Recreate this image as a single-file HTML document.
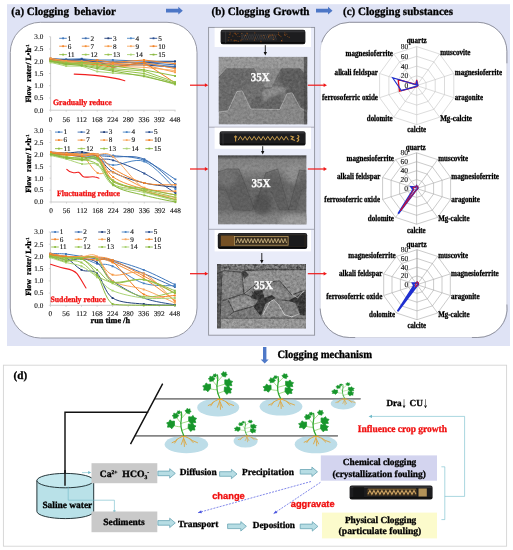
<!DOCTYPE html>
<html lang="en"><head><meta charset="utf-8"><title>Clogging behavior, growth, substances and mechanism</title>
<style>
html,body{margin:0;padding:0;background:#fff;}
body{width:513px;height:550px;overflow:hidden;position:relative;}
svg{display:block;position:absolute;left:0;top:0;}
.ts{font-family:"Liberation Serif","Times New Roman",serif;}
.ta{font-family:"Liberation Sans",Arial,sans-serif;}
.b{font-weight:bold;}
text{text-rendering:geometricPrecision;}
</style></head><body>
<svg width="513" height="550" viewBox="0 0 513 550">
<defs>
<filter id="nz" x="0" y="0" width="100%" height="100%"><feTurbulence type="fractalNoise" baseFrequency="0.4" numOctaves="3" seed="4" result="t"/><feColorMatrix in="t" type="matrix" values="0 0 0 0 0  0 0 0 0 0  0 0 0 0 0  0.9 0.9 0.9 0 -1.05"/></filter>
<filter id="nzw" x="0" y="0" width="100%" height="100%"><feTurbulence type="fractalNoise" baseFrequency="0.35" numOctaves="3" seed="9" result="t"/><feColorMatrix in="t" type="matrix" values="0 0 0 0 1  0 0 0 0 1  0 0 0 0 1  0.9 0.9 0.9 0 -1.1"/></filter>
<filter id="bl1"><feGaussianBlur stdDeviation="0.8"/></filter>
<filter id="bl2"><feGaussianBlur stdDeviation="2"/></filter>
<filter id="bl05"><feGaussianBlur stdDeviation="0.4"/></filter>
<path id="leaf" d="M0,3.6 L-4.2,2.1 L-3.1,-0.2 L-4.0,-2.5 L-1.5,-2.7 L0.0,-4.7 L1.5,-2.7 L4.0,-2.5 L3.1,-0.2 L4.2,2.1 Z" stroke-linejoin="round"/>
<g id="plant">
<g fill="none" stroke="#dfa438" stroke-width="0.9" stroke-linecap="round">
<path d="M0,0.6 C-3,2 -6,3 -8.5,6 L-11.6,7.6"/><path d="M-6.5,4 L-9,8"/>
<path d="M0,0.6 C3,2 6,3 9,5.5 L13.8,7.6"/><path d="M6,3.6 L9.5,7.5"/>
<path d="M0,0.6 C-0.5,4 0.8,7 0.7,11.6"/><path d="M-0.2,3 L-2.4,9.4"/><path d="M0.4,4 L2.6,9.5"/><path d="M-2,1 L2,1" stroke-width="1.5"/>
</g>
<g fill="none" stroke-linecap="round">
<g stroke="#86cf66" stroke-width="0.8">
<path d="M-2.9,-9 C-6,-9 -9,-9.6 -12,-11"/>
<path d="M-2.2,-5 C1,-6.4 4,-7.4 7,-8.4"/>
<path d="M-3,-12.4 C0.4,-13.4 4,-14.4 7.6,-15.8"/>
<path d="M-2.9,-13 C-4.8,-15.4 -6.4,-17.6 -7.8,-20"/>
<path d="M-2,-18 C0,-20.4 2.2,-22.8 4,-25"/>
<path d="M-2.4,-20 C-3.2,-21.6 -4,-23 -4.8,-24"/>
</g>
<path d="M0,0 C-2.8,-6 -3.4,-12 -2.4,-17 C-1.8,-20 -1.8,-22.4 -2.4,-24.6" stroke="#2fa830" stroke-width="1.25"/>
</g>
<g fill="#17962b" stroke="#17962b" stroke-width="0.7">
<use href="#leaf" transform="translate(-12.6,-11.6) rotate(-72) scale(1.0)"/>
<use href="#leaf" transform="translate(7.8,-8.6) rotate(74) scale(0.98)"/>
<use href="#leaf" transform="translate(8.4,-16.2) rotate(70) scale(1.0)"/>
<use href="#leaf" transform="translate(-8.2,-20.4) rotate(-30) scale(0.72)"/>
<use href="#leaf" transform="translate(4.4,-25.2) rotate(38) scale(0.68)"/>
<use href="#leaf" transform="translate(-4.9,-24) rotate(-40) scale(0.45)"/>
</g>
</g>
</defs>
<rect x="7" y="4.2" width="503" height="341.8" fill="#dfe3f5"/>
<rect x="10.3" y="22.3" width="186.7" height="315.7" rx="30" ry="30" fill="#fff" stroke="#8b8d9a" stroke-width="0.9"/>
<rect x="320.2" y="22.3" width="186.7" height="315.2" rx="29" ry="29" fill="#fff" stroke="#cfd2e0" stroke-width="0.8"/>
<path d="M321.7,42.3 A29,29 0 0 1 349.2,22.3 H477.9 A29,29 0 0 1 506.9,51.3 V63.3 M506.9,304.5 A29,29 0 0 1 477.9,337.5 h-6 M355.2,337.5 h-6 A29,29 0 0 1 320.2,308.5" fill="none" stroke="#8b8d9a" stroke-width="0.9"/>
<text class="ts b" x="11.3" y="14.6" font-size="11.2" stroke="#000" stroke-width="0.3" textLength="104.5" lengthAdjust="spacingAndGlyphs" xml:space="preserve">(a) Clogging  behavior</text>
<text class="ts b" x="211.5" y="14.6" font-size="11.2" stroke="#000" stroke-width="0.3" textLength="98.0" lengthAdjust="spacingAndGlyphs">(b) Clogging Growth</text>
<text class="ts b" x="343.0" y="14.6" font-size="11.2" stroke="#000" stroke-width="0.3" textLength="110.0" lengthAdjust="spacingAndGlyphs">(c) Clogging substances</text>
<path d="M166.0,8.799999999999999 H178.3 V6.799999999999999 L182.8,10.7 L178.3,14.6 V12.6 H166.0 Z" fill="#4c76c6"/>
<path d="M316.0,8.799999999999999 H328.0 V6.799999999999999 L332.5,10.7 L328.0,14.6 V12.6 H316.0 Z" fill="#4c76c6"/>
<path d="M263.0,347 H266.4 V359.4 H268.7 L264.7,363.6 L260.7,359.4 H263.0 Z" fill="#4f79c8"/>
<text class="ts b" x="277.4" y="358.4" font-size="11.2" stroke="#000" stroke-width="0.3" textLength="94.6" lengthAdjust="spacingAndGlyphs">Clogging mechanism</text>
<path d="M50.6,36.7 V110.2 H175.5" stroke="#bfbfbf" stroke-width="0.8" fill="none"/>
<path d="M49.0,110.2 H50.6 M49.0,98.0 H50.6 M49.0,85.7 H50.6 M49.0,73.5 H50.6 M49.0,61.2 H50.6 M49.0,49.0 H50.6 M49.0,36.7 H50.6 M50.6,110.2 V111.8 M66.2,110.2 V111.8 M81.7,110.2 V111.8 M97.2,110.2 V111.8 M112.8,110.2 V111.8 M128.3,110.2 V111.8 M143.9,110.2 V111.8 M159.5,110.2 V111.8 M175.0,110.2 V111.8 " stroke="#bfbfbf" stroke-width="0.6" fill="none"/>
<text class="ts" x="43.3" y="112.5" font-size="7.2" text-anchor="end" fill="#111" stroke="#111" stroke-width="0.12">0.0</text>
<text class="ts" x="43.3" y="100.2" font-size="7.2" text-anchor="end" fill="#111" stroke="#111" stroke-width="0.12">0.5</text>
<text class="ts" x="43.3" y="88.0" font-size="7.2" text-anchor="end" fill="#111" stroke="#111" stroke-width="0.12">1.0</text>
<text class="ts" x="43.3" y="75.8" font-size="7.2" text-anchor="end" fill="#111" stroke="#111" stroke-width="0.12">1.5</text>
<text class="ts" x="43.3" y="63.5" font-size="7.2" text-anchor="end" fill="#111" stroke="#111" stroke-width="0.12">2.0</text>
<text class="ts" x="43.3" y="51.2" font-size="7.2" text-anchor="end" fill="#111" stroke="#111" stroke-width="0.12">2.5</text>
<text class="ts" x="43.3" y="39.0" font-size="7.2" text-anchor="end" fill="#111" stroke="#111" stroke-width="0.12">3.0</text>
<text class="ts" x="50.6" y="121.5" font-size="7.3" text-anchor="middle" fill="#111" stroke="#111" stroke-width="0.12">0</text>
<text class="ts" x="66.2" y="121.5" font-size="7.3" text-anchor="middle" fill="#111" stroke="#111" stroke-width="0.12">56</text>
<text class="ts" x="81.7" y="121.5" font-size="7.3" text-anchor="middle" fill="#111" stroke="#111" stroke-width="0.12">112</text>
<text class="ts" x="97.2" y="121.5" font-size="7.3" text-anchor="middle" fill="#111" stroke="#111" stroke-width="0.12">168</text>
<text class="ts" x="112.8" y="121.5" font-size="7.3" text-anchor="middle" fill="#111" stroke="#111" stroke-width="0.12">224</text>
<text class="ts" x="128.3" y="121.5" font-size="7.3" text-anchor="middle" fill="#111" stroke="#111" stroke-width="0.12">280</text>
<text class="ts" x="143.9" y="121.5" font-size="7.3" text-anchor="middle" fill="#111" stroke="#111" stroke-width="0.12">336</text>
<text class="ts" x="159.5" y="121.5" font-size="7.3" text-anchor="middle" fill="#111" stroke="#111" stroke-width="0.12">392</text>
<text class="ts" x="175.0" y="121.5" font-size="7.3" text-anchor="middle" fill="#111" stroke="#111" stroke-width="0.12">448</text>
<text class="ts b" font-size="7.9" stroke="#000" stroke-width="0.3" text-anchor="middle" transform="translate(31.2,73.4) rotate(-90)" xml:space="preserve">Flow  rater/ L•h<tspan font-size="4.6" dy="-2.6">-1</tspan></text>
<path d="M50.6,58.8 L66.2,59.2 L81.7,58.8 L97.2,60.0 L112.8,60.0 L143.9,61.2 L175.0,61.2" stroke="#3f78bd" stroke-width="1" fill="none" stroke-linejoin="round"/>
<path d="M49.6,57.8h1.9v1.9h-1.9zM65.2,58.3h1.9v1.9h-1.9zM80.8,57.8h1.9v1.9h-1.9zM96.3,59.0h1.9v1.9h-1.9zM111.9,59.0h1.9v1.9h-1.9zM143.0,60.2h1.9v1.9h-1.9zM174.1,60.2h1.9v1.9h-1.9z" fill="#3f78bd"/>
<path d="M50.6,60.0 L66.2,60.0 L81.7,61.2 L97.2,61.2 L112.8,62.4 L143.9,62.4 L175.0,64.9" stroke="#3a6cb0" stroke-width="1" fill="none" stroke-linejoin="round"/>
<path d="M49.6,59.0h1.9v1.9h-1.9zM65.2,59.0h1.9v1.9h-1.9zM80.8,60.2h1.9v1.9h-1.9zM96.3,60.2h1.9v1.9h-1.9zM111.9,61.5h1.9v1.9h-1.9zM143.0,61.5h1.9v1.9h-1.9zM174.1,63.9h1.9v1.9h-1.9z" fill="#3a6cb0"/>
<path d="M50.6,58.8 L66.2,60.0 L81.7,60.0 L97.2,61.2 L112.8,67.3 L143.9,62.4 L175.0,61.7" stroke="#23407a" stroke-width="1" fill="none" stroke-linejoin="round"/>
<path d="M49.6,57.8h1.9v1.9h-1.9zM65.2,59.0h1.9v1.9h-1.9zM80.8,59.0h1.9v1.9h-1.9zM96.3,60.2h1.9v1.9h-1.9zM111.9,66.4h1.9v1.9h-1.9zM143.0,61.5h1.9v1.9h-1.9zM174.1,60.7h1.9v1.9h-1.9z" fill="#23407a"/>
<path d="M50.6,59.2 L66.2,60.7 L81.7,60.7 L97.2,61.7 L112.8,61.2 L143.9,63.7 L175.0,66.6" stroke="#4a84c4" stroke-width="1" fill="none" stroke-linejoin="round"/>
<path d="M49.6,58.3h1.9v1.9h-1.9zM65.2,59.8h1.9v1.9h-1.9zM80.8,59.8h1.9v1.9h-1.9zM96.3,60.7h1.9v1.9h-1.9zM111.9,60.2h1.9v1.9h-1.9zM143.0,62.7h1.9v1.9h-1.9zM174.1,65.6h1.9v1.9h-1.9z" fill="#4a84c4"/>
<path d="M50.6,60.0 L66.2,61.2 L81.7,59.2 L97.2,62.4 L112.8,64.9 L143.9,64.9 L175.0,67.3" stroke="#2a4f92" stroke-width="1" fill="none" stroke-linejoin="round"/>
<path d="M49.6,59.0h1.9v1.9h-1.9zM65.2,60.2h1.9v1.9h-1.9zM80.8,58.3h1.9v1.9h-1.9zM96.3,61.5h1.9v1.9h-1.9zM111.9,63.9h1.9v1.9h-1.9zM143.0,63.9h1.9v1.9h-1.9zM174.1,66.4h1.9v1.9h-1.9z" fill="#2a4f92"/>
<path d="M50.6,58.8 L66.2,60.7 L81.7,61.7 L97.2,60.0 L112.8,62.4 L143.9,60.0 L175.0,63.7" stroke="#f4862c" stroke-width="1" fill="none" stroke-linejoin="round"/>
<path d="M49.6,57.8h1.9v1.9h-1.9zM65.2,59.8h1.9v1.9h-1.9zM80.8,60.7h1.9v1.9h-1.9zM96.3,59.0h1.9v1.9h-1.9zM111.9,61.5h1.9v1.9h-1.9zM143.0,59.0h1.9v1.9h-1.9zM174.1,62.7h1.9v1.9h-1.9z" fill="#f4862c"/>
<path d="M50.6,60.0 L66.2,61.7 L81.7,62.4 L97.2,62.4 L112.8,63.7 L143.9,62.4 L175.0,68.6" stroke="#f58f38" stroke-width="1" fill="none" stroke-linejoin="round"/>
<path d="M49.6,59.0h1.9v1.9h-1.9zM65.2,60.7h1.9v1.9h-1.9zM80.8,61.5h1.9v1.9h-1.9zM96.3,61.5h1.9v1.9h-1.9zM111.9,62.7h1.9v1.9h-1.9zM143.0,61.5h1.9v1.9h-1.9zM174.1,67.6h1.9v1.9h-1.9z" fill="#f58f38"/>
<path d="M50.6,58.3 L66.2,61.2 L81.7,61.2 L97.2,63.7 L112.8,64.9 L143.9,64.9 L175.0,72.2" stroke="#f79a46" stroke-width="1" fill="none" stroke-linejoin="round"/>
<path d="M49.6,57.3h1.9v1.9h-1.9zM65.2,60.2h1.9v1.9h-1.9zM80.8,60.2h1.9v1.9h-1.9zM96.3,62.7h1.9v1.9h-1.9zM111.9,63.9h1.9v1.9h-1.9zM143.0,63.9h1.9v1.9h-1.9zM174.1,71.3h1.9v1.9h-1.9z" fill="#f79a46"/>
<path d="M50.6,61.2 L66.2,62.4 L81.7,63.2 L97.2,64.1 L112.8,66.1 L143.9,67.3 L175.0,70.5" stroke="#f9a860" stroke-width="1" fill="none" stroke-linejoin="round"/>
<path d="M49.6,60.2h1.9v1.9h-1.9zM65.2,61.5h1.9v1.9h-1.9zM80.8,62.2h1.9v1.9h-1.9zM96.3,63.2h1.9v1.9h-1.9zM111.9,65.1h1.9v1.9h-1.9zM143.0,66.4h1.9v1.9h-1.9zM174.1,69.6h1.9v1.9h-1.9z" fill="#f9a860"/>
<path d="M50.6,60.0 L66.2,63.2 L81.7,63.7 L97.2,64.9 L112.8,67.3 L143.9,62.4 L175.0,82.8" stroke="#f07f22" stroke-width="1" fill="none" stroke-linejoin="round"/>
<path d="M49.6,59.0h1.9v1.9h-1.9zM65.2,62.2h1.9v1.9h-1.9zM80.8,62.7h1.9v1.9h-1.9zM96.3,63.9h1.9v1.9h-1.9zM111.9,66.4h1.9v1.9h-1.9zM143.0,61.5h1.9v1.9h-1.9zM174.1,81.8h1.9v1.9h-1.9z" fill="#f07f22"/>
<path d="M50.6,61.2 L66.2,63.7 L81.7,62.4 L97.2,63.7 L112.8,66.1 L143.9,69.8 L175.0,75.9" stroke="#8fbd44" stroke-width="1" fill="none" stroke-linejoin="round"/>
<path d="M49.6,60.2h1.9v1.9h-1.9zM65.2,62.7h1.9v1.9h-1.9zM80.8,61.5h1.9v1.9h-1.9zM96.3,62.7h1.9v1.9h-1.9zM111.9,65.1h1.9v1.9h-1.9zM143.0,68.8h1.9v1.9h-1.9zM174.1,75.0h1.9v1.9h-1.9z" fill="#8fbd44"/>
<path d="M50.6,61.7 L66.2,64.9 L81.7,63.7 L97.2,66.1 L112.8,68.6 L143.9,71.0 L175.0,82.0" stroke="#9ac650" stroke-width="1" fill="none" stroke-linejoin="round"/>
<path d="M49.6,60.7h1.9v1.9h-1.9zM65.2,63.9h1.9v1.9h-1.9zM80.8,62.7h1.9v1.9h-1.9zM96.3,65.1h1.9v1.9h-1.9zM111.9,67.6h1.9v1.9h-1.9zM143.0,70.0h1.9v1.9h-1.9zM174.1,81.1h1.9v1.9h-1.9z" fill="#9ac650"/>
<path d="M50.6,60.7 L66.2,62.4 L81.7,64.9 L97.2,67.3 L112.8,69.8 L143.9,73.5 L175.0,83.2" stroke="#94c148" stroke-width="1" fill="none" stroke-linejoin="round"/>
<path d="M49.6,59.8h1.9v1.9h-1.9zM65.2,61.5h1.9v1.9h-1.9zM80.8,63.9h1.9v1.9h-1.9zM96.3,66.4h1.9v1.9h-1.9zM111.9,68.8h1.9v1.9h-1.9zM143.0,72.5h1.9v1.9h-1.9zM174.1,82.3h1.9v1.9h-1.9z" fill="#94c148"/>
<path d="M50.6,62.4 L66.2,66.1 L81.7,66.1 L97.2,71.5 L112.8,73.0 L143.9,75.4 L175.0,84.5" stroke="#aad374" stroke-width="1" fill="none" stroke-linejoin="round"/>
<path d="M49.6,61.5h1.9v1.9h-1.9zM65.2,65.1h1.9v1.9h-1.9zM80.8,65.1h1.9v1.9h-1.9zM96.3,70.5h1.9v1.9h-1.9zM111.9,72.0h1.9v1.9h-1.9zM143.0,74.5h1.9v1.9h-1.9zM174.1,83.5h1.9v1.9h-1.9z" fill="#aad374"/>
<path d="M50.6,61.2 L66.2,64.1 L81.7,65.6 L97.2,68.6 L112.8,71.0 L143.9,76.4 L175.0,83.7" stroke="#88b73e" stroke-width="1" fill="none" stroke-linejoin="round"/>
<path d="M49.6,60.2h1.9v1.9h-1.9zM65.2,63.2h1.9v1.9h-1.9zM80.8,64.7h1.9v1.9h-1.9zM96.3,67.6h1.9v1.9h-1.9zM111.9,70.0h1.9v1.9h-1.9zM143.0,75.4h1.9v1.9h-1.9zM174.1,82.8h1.9v1.9h-1.9z" fill="#88b73e"/>
<path d="M59.2,38.3 h7.6" stroke="#3f78bd" stroke-width="0.9"/><rect x="62.2" y="37.4" width="1.8" height="1.8" fill="#3f78bd"/>
<text class="ts" x="67.8" y="40.6" font-size="7.2" fill="#111" stroke="#111" stroke-width="0.12">1</text>
<path d="M81.8,38.3 h7.6" stroke="#3a6cb0" stroke-width="0.9"/><rect x="84.8" y="37.4" width="1.8" height="1.8" fill="#3a6cb0"/>
<text class="ts" x="90.4" y="40.6" font-size="7.2" fill="#111" stroke="#111" stroke-width="0.12">2</text>
<path d="M104.4,38.3 h7.6" stroke="#23407a" stroke-width="0.9"/><rect x="107.4" y="37.4" width="1.8" height="1.8" fill="#23407a"/>
<text class="ts" x="113.0" y="40.6" font-size="7.2" fill="#111" stroke="#111" stroke-width="0.12">3</text>
<path d="M127.0,38.3 h7.6" stroke="#4a84c4" stroke-width="0.9"/><rect x="130.0" y="37.4" width="1.8" height="1.8" fill="#4a84c4"/>
<text class="ts" x="135.6" y="40.6" font-size="7.2" fill="#111" stroke="#111" stroke-width="0.12">4</text>
<path d="M149.6,38.3 h7.6" stroke="#2a4f92" stroke-width="0.9"/><rect x="152.6" y="37.4" width="1.8" height="1.8" fill="#2a4f92"/>
<text class="ts" x="158.2" y="40.6" font-size="7.2" fill="#111" stroke="#111" stroke-width="0.12">5</text>
<path d="M59.2,46.2 h7.6" stroke="#f4862c" stroke-width="0.9"/><rect x="62.2" y="45.300000000000004" width="1.8" height="1.8" fill="#f4862c"/>
<text class="ts" x="67.8" y="48.5" font-size="7.2" fill="#111" stroke="#111" stroke-width="0.12">6</text>
<path d="M81.8,46.2 h7.6" stroke="#f58f38" stroke-width="0.9"/><rect x="84.8" y="45.300000000000004" width="1.8" height="1.8" fill="#f58f38"/>
<text class="ts" x="90.4" y="48.5" font-size="7.2" fill="#111" stroke="#111" stroke-width="0.12">7</text>
<path d="M104.4,46.2 h7.6" stroke="#f79a46" stroke-width="0.9"/><rect x="107.4" y="45.300000000000004" width="1.8" height="1.8" fill="#f79a46"/>
<text class="ts" x="113.0" y="48.5" font-size="7.2" fill="#111" stroke="#111" stroke-width="0.12">8</text>
<path d="M127.0,46.2 h7.6" stroke="#f9a860" stroke-width="0.9"/><rect x="130.0" y="45.300000000000004" width="1.8" height="1.8" fill="#f9a860"/>
<text class="ts" x="135.6" y="48.5" font-size="7.2" fill="#111" stroke="#111" stroke-width="0.12">9</text>
<path d="M149.6,46.2 h7.6" stroke="#f07f22" stroke-width="0.9"/><rect x="152.6" y="45.300000000000004" width="1.8" height="1.8" fill="#f07f22"/>
<text class="ts" x="158.2" y="48.5" font-size="7.2" fill="#111" stroke="#111" stroke-width="0.12">10</text>
<path d="M59.2,54.6 h7.6" stroke="#8fbd44" stroke-width="0.9"/><rect x="62.2" y="53.7" width="1.8" height="1.8" fill="#8fbd44"/>
<text class="ts" x="67.8" y="56.9" font-size="7.2" fill="#111" stroke="#111" stroke-width="0.12">11</text>
<path d="M81.8,54.6 h7.6" stroke="#9ac650" stroke-width="0.9"/><rect x="84.8" y="53.7" width="1.8" height="1.8" fill="#9ac650"/>
<text class="ts" x="90.4" y="56.9" font-size="7.2" fill="#111" stroke="#111" stroke-width="0.12">12</text>
<path d="M104.4,54.6 h7.6" stroke="#94c148" stroke-width="0.9"/><rect x="107.4" y="53.7" width="1.8" height="1.8" fill="#94c148"/>
<text class="ts" x="113.0" y="56.9" font-size="7.2" fill="#111" stroke="#111" stroke-width="0.12">13</text>
<path d="M127.0,54.6 h7.6" stroke="#aad374" stroke-width="0.9"/><rect x="130.0" y="53.7" width="1.8" height="1.8" fill="#aad374"/>
<text class="ts" x="135.6" y="56.9" font-size="7.2" fill="#111" stroke="#111" stroke-width="0.12">14</text>
<path d="M149.6,54.6 h7.6" stroke="#88b73e" stroke-width="0.9"/><rect x="152.6" y="53.7" width="1.8" height="1.8" fill="#88b73e"/>
<text class="ts" x="158.2" y="56.9" font-size="7.2" fill="#111" stroke="#111" stroke-width="0.12">15</text>
<path d="M74.2,74.1 C86,74.6 100,75.6 111,77.6 C117,78.6 121,79.4 124.8,80.8" stroke="#f02020" stroke-width="1.1" fill="none" stroke-linecap="round"/>
<text class="ts b" x="53.0" y="105.3" font-size="8.2" fill="#f01010" stroke="#f01010" stroke-width="0.3" textLength="58.6" lengthAdjust="spacingAndGlyphs">Gradually reduce</text>
<path d="M51.0,130.6 V202.0 H175.9" stroke="#bfbfbf" stroke-width="0.8" fill="none"/>
<path d="M49.4,202.0 H51.0 M49.4,190.1 H51.0 M49.4,178.2 H51.0 M49.4,166.3 H51.0 M49.4,154.4 H51.0 M49.4,142.5 H51.0 M49.4,130.6 H51.0 M51.0,202.0 V203.6 M66.5,202.0 V203.6 M82.1,202.0 V203.6 M97.7,202.0 V203.6 M113.2,202.0 V203.6 M128.8,202.0 V203.6 M144.3,202.0 V203.6 M159.9,202.0 V203.6 M175.4,202.0 V203.6 " stroke="#bfbfbf" stroke-width="0.6" fill="none"/>
<text class="ts" x="43.3" y="204.3" font-size="7.2" text-anchor="end" fill="#111" stroke="#111" stroke-width="0.12">0.0</text>
<text class="ts" x="43.3" y="192.4" font-size="7.2" text-anchor="end" fill="#111" stroke="#111" stroke-width="0.12">0.5</text>
<text class="ts" x="43.3" y="180.5" font-size="7.2" text-anchor="end" fill="#111" stroke="#111" stroke-width="0.12">1.0</text>
<text class="ts" x="43.3" y="168.6" font-size="7.2" text-anchor="end" fill="#111" stroke="#111" stroke-width="0.12">1.5</text>
<text class="ts" x="43.3" y="156.7" font-size="7.2" text-anchor="end" fill="#111" stroke="#111" stroke-width="0.12">2.0</text>
<text class="ts" x="43.3" y="144.8" font-size="7.2" text-anchor="end" fill="#111" stroke="#111" stroke-width="0.12">2.5</text>
<text class="ts" x="43.3" y="132.9" font-size="7.2" text-anchor="end" fill="#111" stroke="#111" stroke-width="0.12">3.0</text>
<text class="ts" x="51.0" y="213.0" font-size="7.3" text-anchor="middle" fill="#111" stroke="#111" stroke-width="0.12">0</text>
<text class="ts" x="66.5" y="213.0" font-size="7.3" text-anchor="middle" fill="#111" stroke="#111" stroke-width="0.12">56</text>
<text class="ts" x="82.1" y="213.0" font-size="7.3" text-anchor="middle" fill="#111" stroke="#111" stroke-width="0.12">112</text>
<text class="ts" x="97.7" y="213.0" font-size="7.3" text-anchor="middle" fill="#111" stroke="#111" stroke-width="0.12">168</text>
<text class="ts" x="113.2" y="213.0" font-size="7.3" text-anchor="middle" fill="#111" stroke="#111" stroke-width="0.12">224</text>
<text class="ts" x="128.8" y="213.0" font-size="7.3" text-anchor="middle" fill="#111" stroke="#111" stroke-width="0.12">280</text>
<text class="ts" x="144.3" y="213.0" font-size="7.3" text-anchor="middle" fill="#111" stroke="#111" stroke-width="0.12">336</text>
<text class="ts" x="159.9" y="213.0" font-size="7.3" text-anchor="middle" fill="#111" stroke="#111" stroke-width="0.12">392</text>
<text class="ts" x="175.4" y="213.0" font-size="7.3" text-anchor="middle" fill="#111" stroke="#111" stroke-width="0.12">448</text>
<text class="ts b" font-size="7.9" stroke="#000" stroke-width="0.3" text-anchor="middle" transform="translate(31.2,163.6) rotate(-90)" xml:space="preserve">Flow  rater/ L•h<tspan font-size="4.6" dy="-2.6">-1</tspan></text>
<path d="M51.0,152.0 C53.6,152.2 61.4,153.0 66.5,153.2 C71.7,153.4 76.9,153.0 82.1,153.2 C87.3,153.4 92.5,154.0 97.7,154.4 C102.8,154.8 105.4,154.6 113.2,155.6 C121.0,156.6 133.9,156.4 144.3,160.3 C154.7,164.3 170.2,176.2 175.4,179.4" stroke="#3f78bd" stroke-width="1" fill="none" stroke-linejoin="round"/>
<path d="M50.0,151.1h1.9v1.9h-1.9zM65.6,152.3h1.9v1.9h-1.9zM81.1,152.3h1.9v1.9h-1.9zM96.7,153.5h1.9v1.9h-1.9zM112.2,154.6h1.9v1.9h-1.9zM143.4,159.4h1.9v1.9h-1.9zM174.5,178.4h1.9v1.9h-1.9z" fill="#3f78bd"/>
<path d="M51.0,153.2 C53.6,153.4 61.4,154.2 66.5,154.4 C71.7,154.6 76.9,154.2 82.1,154.4 C87.3,154.6 92.5,155.2 97.7,155.6 C102.8,156.0 105.4,156.2 113.2,156.8 C121.0,157.4 133.9,154.6 144.3,159.2 C154.7,163.7 170.2,180.0 175.4,184.2" stroke="#3a6cb0" stroke-width="1" fill="none" stroke-linejoin="round"/>
<path d="M50.0,152.3h1.9v1.9h-1.9zM65.6,153.5h1.9v1.9h-1.9zM81.1,153.5h1.9v1.9h-1.9zM96.7,154.6h1.9v1.9h-1.9zM112.2,155.8h1.9v1.9h-1.9zM143.4,158.2h1.9v1.9h-1.9zM174.5,183.2h1.9v1.9h-1.9z" fill="#3a6cb0"/>
<path d="M51.0,152.5 C53.6,152.6 61.4,153.3 66.5,153.2 C71.7,153.1 76.9,151.4 82.1,152.0 C87.3,152.6 92.5,153.4 97.7,156.8 C102.8,160.2 105.4,167.9 113.2,172.2 C121.0,176.6 133.9,180.5 144.3,183.0 C154.7,185.5 170.2,186.5 175.4,187.2" stroke="#23407a" stroke-width="1" fill="none" stroke-linejoin="round"/>
<path d="M50.0,151.5h1.9v1.9h-1.9zM65.6,152.3h1.9v1.9h-1.9zM81.1,151.1h1.9v1.9h-1.9zM96.7,155.8h1.9v1.9h-1.9zM112.2,171.3h1.9v1.9h-1.9zM143.4,182.0h1.9v1.9h-1.9zM174.5,186.3h1.9v1.9h-1.9z" fill="#23407a"/>
<path d="M51.0,153.2 C53.6,153.3 61.4,153.5 66.5,153.9 C71.7,154.3 76.9,154.9 82.1,155.6 C87.3,156.3 92.5,156.4 97.7,158.0 C102.8,159.6 105.4,164.5 113.2,165.1 C121.0,165.7 133.9,157.6 144.3,161.5 C154.7,165.5 170.2,184.3 175.4,188.9" stroke="#4a84c4" stroke-width="1" fill="none" stroke-linejoin="round"/>
<path d="M50.0,152.3h1.9v1.9h-1.9zM65.6,153.0h1.9v1.9h-1.9zM81.1,154.6h1.9v1.9h-1.9zM96.7,157.0h1.9v1.9h-1.9zM112.2,164.2h1.9v1.9h-1.9zM143.4,160.6h1.9v1.9h-1.9zM174.5,188.0h1.9v1.9h-1.9z" fill="#4a84c4"/>
<path d="M51.0,154.4 C53.6,154.5 61.4,154.5 66.5,154.9 C71.7,155.3 76.9,156.1 82.1,156.8 C87.3,157.5 92.5,158.6 97.7,159.2 C102.8,159.8 105.4,158.0 113.2,160.3 C121.0,162.7 133.9,168.0 144.3,173.4 C154.7,178.9 170.2,189.7 175.4,193.0" stroke="#2a4f92" stroke-width="1" fill="none" stroke-linejoin="round"/>
<path d="M50.0,153.5h1.9v1.9h-1.9zM65.6,153.9h1.9v1.9h-1.9zM81.1,155.8h1.9v1.9h-1.9zM96.7,158.2h1.9v1.9h-1.9zM112.2,159.4h1.9v1.9h-1.9zM143.4,172.5h1.9v1.9h-1.9zM174.5,192.0h1.9v1.9h-1.9z" fill="#2a4f92"/>
<path d="M51.0,152.0 C53.6,152.2 61.4,152.8 66.5,153.2 C71.7,153.6 76.9,154.2 82.1,154.4 C87.3,154.6 92.5,152.0 97.7,154.4 C102.8,156.8 105.4,163.9 113.2,168.7 C121.0,173.4 133.9,180.3 144.3,183.0 C154.7,185.7 170.2,184.5 175.4,184.9" stroke="#f4862c" stroke-width="1" fill="none" stroke-linejoin="round"/>
<path d="M50.0,151.1h1.9v1.9h-1.9zM65.6,152.3h1.9v1.9h-1.9zM81.1,153.5h1.9v1.9h-1.9zM96.7,153.5h1.9v1.9h-1.9zM112.2,167.7h1.9v1.9h-1.9zM143.4,182.0h1.9v1.9h-1.9zM174.5,183.9h1.9v1.9h-1.9z" fill="#f4862c"/>
<path d="M51.0,153.2 C53.6,153.4 61.4,154.2 66.5,154.4 C71.7,154.6 76.9,154.2 82.1,154.4 C87.3,154.6 92.5,151.8 97.7,155.6 C102.8,159.4 105.4,171.5 113.2,177.0 C121.0,182.6 133.9,186.5 144.3,188.9 C154.7,191.3 170.2,190.9 175.4,191.3" stroke="#f58f38" stroke-width="1" fill="none" stroke-linejoin="round"/>
<path d="M50.0,152.3h1.9v1.9h-1.9zM65.6,153.5h1.9v1.9h-1.9zM81.1,153.5h1.9v1.9h-1.9zM96.7,154.6h1.9v1.9h-1.9zM112.2,176.1h1.9v1.9h-1.9zM143.4,188.0h1.9v1.9h-1.9zM174.5,190.3h1.9v1.9h-1.9z" fill="#f58f38"/>
<path d="M51.0,152.5 C53.6,152.7 61.4,153.4 66.5,153.9 C71.7,154.4 76.9,152.4 82.1,155.6 C87.3,158.8 92.5,170.2 97.7,173.0 C102.8,175.7 105.4,169.8 113.2,172.2 C121.0,174.7 133.9,184.0 144.3,187.7 C154.7,191.5 170.2,193.7 175.4,194.9" stroke="#f79a46" stroke-width="1" fill="none" stroke-linejoin="round"/>
<path d="M50.0,151.5h1.9v1.9h-1.9zM65.6,153.0h1.9v1.9h-1.9zM81.1,154.6h1.9v1.9h-1.9zM96.7,172.0h1.9v1.9h-1.9zM112.2,171.3h1.9v1.9h-1.9zM143.4,186.8h1.9v1.9h-1.9zM174.5,193.9h1.9v1.9h-1.9z" fill="#f79a46"/>
<path d="M51.0,154.4 C53.6,154.6 61.4,155.5 66.5,155.6 C71.7,155.7 76.9,155.1 82.1,154.9 C87.3,154.7 92.5,154.1 97.7,154.4 C102.8,154.7 105.4,151.0 113.2,156.8 C121.0,162.5 133.9,182.1 144.3,188.9 C154.7,195.7 170.2,196.2 175.4,197.7" stroke="#f9a860" stroke-width="1" fill="none" stroke-linejoin="round"/>
<path d="M50.0,153.5h1.9v1.9h-1.9zM65.6,154.6h1.9v1.9h-1.9zM81.1,153.9h1.9v1.9h-1.9zM96.7,153.5h1.9v1.9h-1.9zM112.2,155.8h1.9v1.9h-1.9zM143.4,188.0h1.9v1.9h-1.9zM174.5,196.8h1.9v1.9h-1.9z" fill="#f9a860"/>
<path d="M51.0,153.2 C53.6,153.5 61.4,154.4 66.5,154.9 C71.7,155.4 76.9,156.0 82.1,156.3 C87.3,156.6 92.5,152.7 97.7,156.8 C102.8,160.8 105.4,174.8 113.2,180.6 C121.0,186.3 133.9,188.1 144.3,191.3 C154.7,194.5 170.2,198.2 175.4,199.6" stroke="#f07f22" stroke-width="1" fill="none" stroke-linejoin="round"/>
<path d="M50.0,152.3h1.9v1.9h-1.9zM65.6,153.9h1.9v1.9h-1.9zM81.1,155.4h1.9v1.9h-1.9zM96.7,155.8h1.9v1.9h-1.9zM112.2,179.6h1.9v1.9h-1.9zM143.4,190.3h1.9v1.9h-1.9zM174.5,198.7h1.9v1.9h-1.9z" fill="#f07f22"/>
<path d="M51.0,154.4 C53.6,154.9 61.4,156.7 66.5,157.3 C71.7,157.9 76.9,157.7 82.1,158.0 C87.3,158.3 92.5,155.2 97.7,159.2 C102.8,163.1 105.4,176.8 113.2,181.8 C121.0,186.7 133.9,186.7 144.3,188.9 C154.7,191.1 170.2,193.9 175.4,194.9" stroke="#8fbd44" stroke-width="1" fill="none" stroke-linejoin="round"/>
<path d="M50.0,153.5h1.9v1.9h-1.9zM65.6,156.3h1.9v1.9h-1.9zM81.1,157.0h1.9v1.9h-1.9zM96.7,158.2h1.9v1.9h-1.9zM112.2,180.8h1.9v1.9h-1.9zM143.4,188.0h1.9v1.9h-1.9zM174.5,193.9h1.9v1.9h-1.9z" fill="#8fbd44"/>
<path d="M51.0,154.9 C53.6,155.4 61.4,157.1 66.5,158.0 C71.7,158.9 76.9,160.0 82.1,160.3 C87.3,160.7 92.5,156.4 97.7,160.3 C102.8,164.3 105.4,179.2 113.2,184.2 C121.0,189.1 133.9,187.9 144.3,190.1 C154.7,192.3 170.2,196.1 175.4,197.2" stroke="#9ac650" stroke-width="1" fill="none" stroke-linejoin="round"/>
<path d="M50.0,153.9h1.9v1.9h-1.9zM65.6,157.0h1.9v1.9h-1.9zM81.1,159.4h1.9v1.9h-1.9zM96.7,159.4h1.9v1.9h-1.9zM112.2,183.2h1.9v1.9h-1.9zM143.4,189.2h1.9v1.9h-1.9zM174.5,196.3h1.9v1.9h-1.9z" fill="#9ac650"/>
<path d="M51.0,153.9 C53.6,154.4 61.4,155.9 66.5,156.8 C71.7,157.7 76.9,157.9 82.1,159.2 C87.3,160.4 92.5,160.8 97.7,164.4 C102.8,168.0 105.4,176.1 113.2,180.6 C121.0,185.1 133.9,188.1 144.3,191.3 C154.7,194.5 170.2,198.2 175.4,199.6" stroke="#94c148" stroke-width="1" fill="none" stroke-linejoin="round"/>
<path d="M50.0,153.0h1.9v1.9h-1.9zM65.6,155.8h1.9v1.9h-1.9zM81.1,158.2h1.9v1.9h-1.9zM96.7,163.4h1.9v1.9h-1.9zM112.2,179.6h1.9v1.9h-1.9zM143.4,190.3h1.9v1.9h-1.9zM174.5,198.7h1.9v1.9h-1.9z" fill="#94c148"/>
<path d="M51.0,155.6 C53.6,156.2 61.4,157.8 66.5,159.2 C71.7,160.5 76.9,162.9 82.1,163.9 C87.3,164.9 92.5,161.5 97.7,165.1 C102.8,168.7 105.4,180.8 113.2,185.3 C121.0,189.9 133.9,189.9 144.3,192.5 C154.7,195.1 170.2,199.4 175.4,200.8" stroke="#aad374" stroke-width="1" fill="none" stroke-linejoin="round"/>
<path d="M50.0,154.6h1.9v1.9h-1.9zM65.6,158.2h1.9v1.9h-1.9zM81.1,163.0h1.9v1.9h-1.9zM96.7,164.2h1.9v1.9h-1.9zM112.2,184.4h1.9v1.9h-1.9zM143.4,191.5h1.9v1.9h-1.9zM174.5,199.9h1.9v1.9h-1.9z" fill="#aad374"/>
<path d="M51.0,154.4 C53.6,155.0 61.4,157.1 66.5,158.0 C71.7,158.8 76.9,159.6 82.1,159.6 C87.3,159.6 92.5,153.8 97.7,158.0 C102.8,162.2 105.4,178.6 113.2,184.9 C121.0,191.1 133.9,192.5 144.3,195.3 C154.7,198.2 170.2,200.9 175.4,202.0" stroke="#88b73e" stroke-width="1" fill="none" stroke-linejoin="round"/>
<path d="M50.0,153.5h1.9v1.9h-1.9zM65.6,157.0h1.9v1.9h-1.9zM81.1,158.7h1.9v1.9h-1.9zM96.7,157.0h1.9v1.9h-1.9zM112.2,183.9h1.9v1.9h-1.9zM143.4,194.4h1.9v1.9h-1.9zM174.5,201.1h1.9v1.9h-1.9z" fill="#88b73e"/>
<path d="M55.0,132.1 h7.6" stroke="#3f78bd" stroke-width="0.9"/><rect x="58.0" y="131.2" width="1.8" height="1.8" fill="#3f78bd"/>
<text class="ts" x="63.6" y="134.4" font-size="7.2" fill="#111" stroke="#111" stroke-width="0.12">1</text>
<path d="M77.6,132.1 h7.6" stroke="#3a6cb0" stroke-width="0.9"/><rect x="80.6" y="131.2" width="1.8" height="1.8" fill="#3a6cb0"/>
<text class="ts" x="86.2" y="134.4" font-size="7.2" fill="#111" stroke="#111" stroke-width="0.12">2</text>
<path d="M100.2,132.1 h7.6" stroke="#23407a" stroke-width="0.9"/><rect x="103.2" y="131.2" width="1.8" height="1.8" fill="#23407a"/>
<text class="ts" x="108.8" y="134.4" font-size="7.2" fill="#111" stroke="#111" stroke-width="0.12">3</text>
<path d="M122.8,132.1 h7.6" stroke="#4a84c4" stroke-width="0.9"/><rect x="125.8" y="131.2" width="1.8" height="1.8" fill="#4a84c4"/>
<text class="ts" x="131.4" y="134.4" font-size="7.2" fill="#111" stroke="#111" stroke-width="0.12">4</text>
<path d="M145.4,132.1 h7.6" stroke="#2a4f92" stroke-width="0.9"/><rect x="148.4" y="131.2" width="1.8" height="1.8" fill="#2a4f92"/>
<text class="ts" x="154.0" y="134.4" font-size="7.2" fill="#111" stroke="#111" stroke-width="0.12">5</text>
<path d="M55.0,140.1 h7.6" stroke="#f4862c" stroke-width="0.9"/><rect x="58.0" y="139.2" width="1.8" height="1.8" fill="#f4862c"/>
<text class="ts" x="63.6" y="142.4" font-size="7.2" fill="#111" stroke="#111" stroke-width="0.12">6</text>
<path d="M77.6,140.1 h7.6" stroke="#f58f38" stroke-width="0.9"/><rect x="80.6" y="139.2" width="1.8" height="1.8" fill="#f58f38"/>
<text class="ts" x="86.2" y="142.4" font-size="7.2" fill="#111" stroke="#111" stroke-width="0.12">7</text>
<path d="M100.2,140.1 h7.6" stroke="#f79a46" stroke-width="0.9"/><rect x="103.2" y="139.2" width="1.8" height="1.8" fill="#f79a46"/>
<text class="ts" x="108.8" y="142.4" font-size="7.2" fill="#111" stroke="#111" stroke-width="0.12">8</text>
<path d="M122.8,140.1 h7.6" stroke="#f9a860" stroke-width="0.9"/><rect x="125.8" y="139.2" width="1.8" height="1.8" fill="#f9a860"/>
<text class="ts" x="131.4" y="142.4" font-size="7.2" fill="#111" stroke="#111" stroke-width="0.12">9</text>
<path d="M145.4,140.1 h7.6" stroke="#f07f22" stroke-width="0.9"/><rect x="148.4" y="139.2" width="1.8" height="1.8" fill="#f07f22"/>
<text class="ts" x="154.0" y="142.4" font-size="7.2" fill="#111" stroke="#111" stroke-width="0.12">10</text>
<path d="M55.0,148.6 h7.6" stroke="#8fbd44" stroke-width="0.9"/><rect x="58.0" y="147.7" width="1.8" height="1.8" fill="#8fbd44"/>
<text class="ts" x="63.6" y="150.9" font-size="7.2" fill="#111" stroke="#111" stroke-width="0.12">11</text>
<path d="M77.6,148.6 h7.6" stroke="#9ac650" stroke-width="0.9"/><rect x="80.6" y="147.7" width="1.8" height="1.8" fill="#9ac650"/>
<text class="ts" x="86.2" y="150.9" font-size="7.2" fill="#111" stroke="#111" stroke-width="0.12">12</text>
<path d="M100.2,148.6 h7.6" stroke="#94c148" stroke-width="0.9"/><rect x="103.2" y="147.7" width="1.8" height="1.8" fill="#94c148"/>
<text class="ts" x="108.8" y="150.9" font-size="7.2" fill="#111" stroke="#111" stroke-width="0.12">13</text>
<path d="M122.8,148.6 h7.6" stroke="#aad374" stroke-width="0.9"/><rect x="125.8" y="147.7" width="1.8" height="1.8" fill="#aad374"/>
<text class="ts" x="131.4" y="150.9" font-size="7.2" fill="#111" stroke="#111" stroke-width="0.12">14</text>
<path d="M145.4,148.6 h7.6" stroke="#88b73e" stroke-width="0.9"/><rect x="148.4" y="147.7" width="1.8" height="1.8" fill="#88b73e"/>
<text class="ts" x="154.0" y="150.9" font-size="7.2" fill="#111" stroke="#111" stroke-width="0.12">15</text>
<path d="M66.8,169.4 C69,172 71,172.6 73.5,172.8 C76,173 77,171.8 79,172.4 C81,173.2 81.6,176.6 84,177 C88,177.6 92,176.2 95,177 C97,177.4 98,178 99,178.2" stroke="#f02020" stroke-width="1.1" fill="none" stroke-linecap="round"/>
<text class="ts b" x="57.0" y="195.7" font-size="8.2" fill="#f01010" stroke="#f01010" stroke-width="0.3" textLength="63.0" lengthAdjust="spacingAndGlyphs">Fluctuating reduce</text>
<path d="M50.4,232.0 V305.3 H175.3" stroke="#bfbfbf" stroke-width="0.8" fill="none"/>
<path d="M48.8,305.3 H50.4 M48.8,293.1 H50.4 M48.8,280.9 H50.4 M48.8,268.6 H50.4 M48.8,256.4 H50.4 M48.8,244.2 H50.4 M48.8,232.0 H50.4 M50.4,305.3 V306.90000000000003 M66.0,305.3 V306.90000000000003 M81.5,305.3 V306.90000000000003 M97.1,305.3 V306.90000000000003 M112.6,305.3 V306.90000000000003 M128.2,305.3 V306.90000000000003 M143.7,305.3 V306.90000000000003 M159.2,305.3 V306.90000000000003 M174.8,305.3 V306.90000000000003 " stroke="#bfbfbf" stroke-width="0.6" fill="none"/>
<text class="ts" x="43.3" y="307.6" font-size="7.2" text-anchor="end" fill="#111" stroke="#111" stroke-width="0.12">0.0</text>
<text class="ts" x="43.3" y="295.4" font-size="7.2" text-anchor="end" fill="#111" stroke="#111" stroke-width="0.12">0.5</text>
<text class="ts" x="43.3" y="283.2" font-size="7.2" text-anchor="end" fill="#111" stroke="#111" stroke-width="0.12">1.0</text>
<text class="ts" x="43.3" y="270.9" font-size="7.2" text-anchor="end" fill="#111" stroke="#111" stroke-width="0.12">1.5</text>
<text class="ts" x="43.3" y="258.7" font-size="7.2" text-anchor="end" fill="#111" stroke="#111" stroke-width="0.12">2.0</text>
<text class="ts" x="43.3" y="246.5" font-size="7.2" text-anchor="end" fill="#111" stroke="#111" stroke-width="0.12">2.5</text>
<text class="ts" x="43.3" y="234.3" font-size="7.2" text-anchor="end" fill="#111" stroke="#111" stroke-width="0.12">3.0</text>
<text class="ts" x="50.4" y="315.8" font-size="7.3" text-anchor="middle" fill="#111" stroke="#111" stroke-width="0.12">0</text>
<text class="ts" x="66.0" y="315.8" font-size="7.3" text-anchor="middle" fill="#111" stroke="#111" stroke-width="0.12">56</text>
<text class="ts" x="81.5" y="315.8" font-size="7.3" text-anchor="middle" fill="#111" stroke="#111" stroke-width="0.12">112</text>
<text class="ts" x="97.1" y="315.8" font-size="7.3" text-anchor="middle" fill="#111" stroke="#111" stroke-width="0.12">168</text>
<text class="ts" x="112.6" y="315.8" font-size="7.3" text-anchor="middle" fill="#111" stroke="#111" stroke-width="0.12">224</text>
<text class="ts" x="128.2" y="315.8" font-size="7.3" text-anchor="middle" fill="#111" stroke="#111" stroke-width="0.12">280</text>
<text class="ts" x="143.7" y="315.8" font-size="7.3" text-anchor="middle" fill="#111" stroke="#111" stroke-width="0.12">336</text>
<text class="ts" x="159.2" y="315.8" font-size="7.3" text-anchor="middle" fill="#111" stroke="#111" stroke-width="0.12">392</text>
<text class="ts" x="174.8" y="315.8" font-size="7.3" text-anchor="middle" fill="#111" stroke="#111" stroke-width="0.12">448</text>
<text class="ts b" font-size="7.9" stroke="#000" stroke-width="0.3" text-anchor="middle" transform="translate(31.2,266.6) rotate(-90)" xml:space="preserve">Flow  rater/ L•h<tspan font-size="4.6" dy="-2.6">-1</tspan></text>
<path d="M50.4,253.5 C53.0,253.6 60.8,253.5 66.0,254.0 C71.1,254.5 76.3,255.8 81.5,256.4 C86.7,257.0 91.9,257.0 97.1,257.7 C102.2,258.3 104.8,258.1 112.6,260.1 C120.4,262.1 133.3,265.8 143.7,269.9 C154.1,273.9 169.6,282.1 174.8,284.5" stroke="#3f78bd" stroke-width="1" fill="none" stroke-linejoin="round"/>
<path d="M49.4,252.6h1.9v1.9h-1.9zM65.0,253.0h1.9v1.9h-1.9zM80.5,255.5h1.9v1.9h-1.9zM96.1,256.7h1.9v1.9h-1.9zM111.6,259.1h1.9v1.9h-1.9zM142.8,268.9h1.9v1.9h-1.9zM173.9,283.6h1.9v1.9h-1.9z" fill="#3f78bd"/>
<path d="M50.4,254.5 C53.0,254.8 60.8,256.0 66.0,256.4 C71.1,256.8 76.3,256.5 81.5,256.9 C86.7,257.3 91.9,258.1 97.1,258.9 C102.2,259.6 104.8,258.9 112.6,261.3 C120.4,263.8 133.3,269.3 143.7,273.5 C154.1,277.8 169.6,284.7 174.8,287.0" stroke="#3a6cb0" stroke-width="1" fill="none" stroke-linejoin="round"/>
<path d="M49.4,253.5h1.9v1.9h-1.9zM65.0,255.5h1.9v1.9h-1.9zM80.5,256.0h1.9v1.9h-1.9zM96.1,257.9h1.9v1.9h-1.9zM111.6,260.4h1.9v1.9h-1.9zM142.8,272.6h1.9v1.9h-1.9zM173.9,286.0h1.9v1.9h-1.9z" fill="#3a6cb0"/>
<path d="M50.4,254.0 C53.0,254.6 60.8,255.0 66.0,257.7 C71.1,260.3 76.3,267.2 81.5,269.9 C86.7,272.5 91.9,268.9 97.1,273.5 C102.2,278.2 104.8,292.9 112.6,298.0 C120.4,303.1 133.3,302.9 143.7,304.1 C154.1,305.3 169.6,305.1 174.8,305.3" stroke="#23407a" stroke-width="1" fill="none" stroke-linejoin="round"/>
<path d="M49.4,253.0h1.9v1.9h-1.9zM65.0,256.7h1.9v1.9h-1.9zM80.5,268.9h1.9v1.9h-1.9zM96.1,272.6h1.9v1.9h-1.9zM111.6,297.0h1.9v1.9h-1.9zM142.8,303.1h1.9v1.9h-1.9zM173.9,304.4h1.9v1.9h-1.9z" fill="#23407a"/>
<path d="M50.4,255.2 C53.0,255.4 60.8,256.0 66.0,256.4 C71.1,256.8 76.3,256.4 81.5,257.7 C86.7,258.9 91.9,262.3 97.1,263.8 C102.2,265.2 104.8,262.9 112.6,266.2 C120.4,269.5 133.3,280.1 143.7,283.3 C154.1,286.6 169.6,285.3 174.8,285.8" stroke="#4a84c4" stroke-width="1" fill="none" stroke-linejoin="round"/>
<path d="M49.4,254.3h1.9v1.9h-1.9zM65.0,255.5h1.9v1.9h-1.9zM80.5,256.7h1.9v1.9h-1.9zM96.1,262.8h1.9v1.9h-1.9zM111.6,265.3h1.9v1.9h-1.9zM142.8,282.4h1.9v1.9h-1.9zM173.9,284.8h1.9v1.9h-1.9z" fill="#4a84c4"/>
<path d="M50.4,254.0 C53.0,255.0 60.8,259.3 66.0,260.1 C71.1,260.9 76.3,258.5 81.5,258.9 C86.7,259.3 91.9,258.9 97.1,262.5 C102.2,266.2 104.8,275.0 112.6,280.9 C120.4,286.8 133.3,294.0 143.7,298.0 C154.1,302.0 169.6,303.7 174.8,304.8" stroke="#2a4f92" stroke-width="1" fill="none" stroke-linejoin="round"/>
<path d="M49.4,253.0h1.9v1.9h-1.9zM65.0,259.1h1.9v1.9h-1.9zM80.5,257.9h1.9v1.9h-1.9zM96.1,261.6h1.9v1.9h-1.9zM111.6,279.9h1.9v1.9h-1.9zM142.8,297.0h1.9v1.9h-1.9zM173.9,303.9h1.9v1.9h-1.9z" fill="#2a4f92"/>
<path d="M50.4,254.0 C53.0,254.4 60.8,256.0 66.0,256.4 C71.1,256.8 76.3,256.4 81.5,256.4 C86.7,256.5 91.9,256.3 97.1,256.9 C102.2,257.5 104.8,256.9 112.6,260.1 C120.4,263.3 133.3,270.5 143.7,276.0 C154.1,281.5 169.6,290.2 174.8,293.1" stroke="#f4862c" stroke-width="1" fill="none" stroke-linejoin="round"/>
<path d="M49.4,253.0h1.9v1.9h-1.9zM65.0,255.5h1.9v1.9h-1.9zM80.5,255.5h1.9v1.9h-1.9zM96.1,256.0h1.9v1.9h-1.9zM111.6,259.1h1.9v1.9h-1.9zM142.8,275.0h1.9v1.9h-1.9zM173.9,292.1h1.9v1.9h-1.9z" fill="#f4862c"/>
<path d="M50.4,255.2 C53.0,255.5 60.8,256.6 66.0,256.9 C71.1,257.2 76.3,256.8 81.5,256.9 C86.7,257.0 91.9,256.7 97.1,257.7 C102.2,258.6 104.8,259.1 112.6,262.5 C120.4,266.0 133.3,272.1 143.7,278.4 C154.1,284.7 169.6,296.7 174.8,300.4" stroke="#f58f38" stroke-width="1" fill="none" stroke-linejoin="round"/>
<path d="M49.4,254.3h1.9v1.9h-1.9zM65.0,256.0h1.9v1.9h-1.9zM80.5,256.0h1.9v1.9h-1.9zM96.1,256.7h1.9v1.9h-1.9zM111.6,261.6h1.9v1.9h-1.9zM142.8,277.5h1.9v1.9h-1.9zM173.9,299.5h1.9v1.9h-1.9z" fill="#f58f38"/>
<path d="M50.4,253.5 C53.0,254.0 60.8,255.7 66.0,256.4 C71.1,257.1 76.3,257.2 81.5,257.7 C86.7,258.1 91.9,256.0 97.1,258.9 C102.2,261.7 104.8,272.3 112.6,274.8 C120.4,277.2 133.3,269.1 143.7,273.5 C154.1,278.0 169.6,297.0 174.8,301.6" stroke="#f79a46" stroke-width="1" fill="none" stroke-linejoin="round"/>
<path d="M49.4,252.6h1.9v1.9h-1.9zM65.0,255.5h1.9v1.9h-1.9zM80.5,256.7h1.9v1.9h-1.9zM96.1,257.9h1.9v1.9h-1.9zM111.6,273.8h1.9v1.9h-1.9zM142.8,272.6h1.9v1.9h-1.9zM173.9,300.7h1.9v1.9h-1.9z" fill="#f79a46"/>
<path d="M50.4,256.4 C53.0,256.6 60.8,257.6 66.0,257.7 C71.1,257.7 76.3,257.1 81.5,256.9 C86.7,256.7 91.9,252.4 97.1,256.4 C102.2,260.4 104.8,275.4 112.6,280.9 C120.4,286.4 133.3,285.8 143.7,289.4 C154.1,293.1 169.6,300.6 174.8,302.9" stroke="#f9a860" stroke-width="1" fill="none" stroke-linejoin="round"/>
<path d="M49.4,255.5h1.9v1.9h-1.9zM65.0,256.7h1.9v1.9h-1.9zM80.5,256.0h1.9v1.9h-1.9zM96.1,255.5h1.9v1.9h-1.9zM111.6,279.9h1.9v1.9h-1.9zM142.8,288.5h1.9v1.9h-1.9zM173.9,301.9h1.9v1.9h-1.9z" fill="#f9a860"/>
<path d="M50.4,255.2 C53.0,255.5 60.8,256.4 66.0,256.9 C71.1,257.5 76.3,257.9 81.5,258.4 C86.7,258.9 91.9,259.5 97.1,260.1 C102.2,260.7 104.8,256.1 112.6,261.8 C120.4,267.5 133.3,288.7 143.7,294.3 C154.1,299.9 169.6,295.3 174.8,295.5" stroke="#f07f22" stroke-width="1" fill="none" stroke-linejoin="round"/>
<path d="M49.4,254.3h1.9v1.9h-1.9zM65.0,256.0h1.9v1.9h-1.9zM80.5,257.4h1.9v1.9h-1.9zM96.1,259.1h1.9v1.9h-1.9zM111.6,260.9h1.9v1.9h-1.9zM142.8,293.4h1.9v1.9h-1.9zM173.9,294.6h1.9v1.9h-1.9z" fill="#f07f22"/>
<path d="M50.4,256.4 C53.0,256.8 60.8,258.5 66.0,258.9 C71.1,259.3 76.3,257.0 81.5,258.9 C86.7,260.7 91.9,266.0 97.1,269.9 C102.2,273.7 104.8,280.5 112.6,282.1 C120.4,283.7 133.3,278.2 143.7,279.6 C154.1,281.1 169.6,288.8 174.8,290.6" stroke="#8fbd44" stroke-width="1" fill="none" stroke-linejoin="round"/>
<path d="M49.4,255.5h1.9v1.9h-1.9zM65.0,257.9h1.9v1.9h-1.9zM80.5,257.9h1.9v1.9h-1.9zM96.1,268.9h1.9v1.9h-1.9zM111.6,281.1h1.9v1.9h-1.9zM142.8,278.7h1.9v1.9h-1.9zM173.9,289.7h1.9v1.9h-1.9z" fill="#8fbd44"/>
<path d="M50.4,256.9 C53.0,257.5 60.8,259.2 66.0,260.1 C71.1,261.0 76.3,259.9 81.5,262.5 C86.7,265.2 91.9,272.5 97.1,276.0 C102.2,279.4 104.8,279.8 112.6,283.3 C120.4,286.8 133.3,295.3 143.7,296.7 C154.1,298.2 169.6,292.7 174.8,291.9" stroke="#9ac650" stroke-width="1" fill="none" stroke-linejoin="round"/>
<path d="M49.4,256.0h1.9v1.9h-1.9zM65.0,259.1h1.9v1.9h-1.9zM80.5,261.6h1.9v1.9h-1.9zM96.1,275.0h1.9v1.9h-1.9zM111.6,282.4h1.9v1.9h-1.9zM142.8,295.8h1.9v1.9h-1.9zM173.9,290.9h1.9v1.9h-1.9z" fill="#9ac650"/>
<path d="M50.4,255.9 C53.0,256.2 60.8,257.4 66.0,257.7 C71.1,257.9 76.3,257.5 81.5,257.7 C86.7,257.9 91.9,254.8 97.1,258.9 C102.2,262.9 104.8,278.6 112.6,282.1 C120.4,285.5 133.3,277.8 143.7,279.6 C154.1,281.5 169.6,290.8 174.8,293.1" stroke="#94c148" stroke-width="1" fill="none" stroke-linejoin="round"/>
<path d="M49.4,255.0h1.9v1.9h-1.9zM65.0,256.7h1.9v1.9h-1.9zM80.5,256.7h1.9v1.9h-1.9zM96.1,257.9h1.9v1.9h-1.9zM111.6,281.1h1.9v1.9h-1.9zM142.8,278.7h1.9v1.9h-1.9zM173.9,292.1h1.9v1.9h-1.9z" fill="#94c148"/>
<path d="M50.4,257.7 C53.0,258.5 60.8,261.1 66.0,262.5 C71.1,264.0 76.3,263.8 81.5,266.2 C86.7,268.6 91.9,273.1 97.1,277.2 C102.2,281.3 104.8,287.2 112.6,290.6 C120.4,294.1 133.3,296.7 143.7,298.0 C154.1,299.2 169.6,298.0 174.8,298.0" stroke="#aad374" stroke-width="1" fill="none" stroke-linejoin="round"/>
<path d="M49.4,256.7h1.9v1.9h-1.9zM65.0,261.6h1.9v1.9h-1.9zM80.5,265.3h1.9v1.9h-1.9zM96.1,276.3h1.9v1.9h-1.9zM111.6,289.7h1.9v1.9h-1.9zM142.8,297.0h1.9v1.9h-1.9zM173.9,297.0h1.9v1.9h-1.9z" fill="#aad374"/>
<path d="M50.4,256.4 C53.0,257.2 60.8,260.9 66.0,261.3 C71.1,261.7 76.3,256.6 81.5,258.9 C86.7,261.1 91.9,267.2 97.1,274.8 C102.2,282.3 104.8,299.0 112.6,304.1 C120.4,305.3 133.3,305.1 143.7,305.3 C154.1,305.3 169.6,305.3 174.8,305.3" stroke="#88b73e" stroke-width="1" fill="none" stroke-linejoin="round"/>
<path d="M49.4,255.5h1.9v1.9h-1.9zM65.0,260.4h1.9v1.9h-1.9zM80.5,257.9h1.9v1.9h-1.9zM96.1,273.8h1.9v1.9h-1.9zM111.6,303.1h1.9v1.9h-1.9zM142.8,304.4h1.9v1.9h-1.9zM173.9,304.4h1.9v1.9h-1.9z" fill="#88b73e"/>
<path d="M51.2,232.0 h7.6" stroke="#3f78bd" stroke-width="0.9"/><rect x="54.2" y="231.1" width="1.8" height="1.8" fill="#3f78bd"/>
<text class="ts" x="59.8" y="234.3" font-size="7.2" fill="#111" stroke="#111" stroke-width="0.12">1</text>
<path d="M74.7,232.0 h7.6" stroke="#3a6cb0" stroke-width="0.9"/><rect x="77.7" y="231.1" width="1.8" height="1.8" fill="#3a6cb0"/>
<text class="ts" x="83.3" y="234.3" font-size="7.2" fill="#111" stroke="#111" stroke-width="0.12">2</text>
<path d="M98.2,232.0 h7.6" stroke="#23407a" stroke-width="0.9"/><rect x="101.2" y="231.1" width="1.8" height="1.8" fill="#23407a"/>
<text class="ts" x="106.8" y="234.3" font-size="7.2" fill="#111" stroke="#111" stroke-width="0.12">3</text>
<path d="M121.7,232.0 h7.6" stroke="#4a84c4" stroke-width="0.9"/><rect x="124.7" y="231.1" width="1.8" height="1.8" fill="#4a84c4"/>
<text class="ts" x="130.3" y="234.3" font-size="7.2" fill="#111" stroke="#111" stroke-width="0.12">4</text>
<path d="M145.2,232.0 h7.6" stroke="#2a4f92" stroke-width="0.9"/><rect x="148.2" y="231.1" width="1.8" height="1.8" fill="#2a4f92"/>
<text class="ts" x="153.8" y="234.3" font-size="7.2" fill="#111" stroke="#111" stroke-width="0.12">5</text>
<path d="M51.2,239.3 h7.6" stroke="#f4862c" stroke-width="0.9"/><rect x="54.2" y="238.4" width="1.8" height="1.8" fill="#f4862c"/>
<text class="ts" x="59.8" y="241.6" font-size="7.2" fill="#111" stroke="#111" stroke-width="0.12">6</text>
<path d="M74.7,239.3 h7.6" stroke="#f58f38" stroke-width="0.9"/><rect x="77.7" y="238.4" width="1.8" height="1.8" fill="#f58f38"/>
<text class="ts" x="83.3" y="241.6" font-size="7.2" fill="#111" stroke="#111" stroke-width="0.12">7</text>
<path d="M98.2,239.3 h7.6" stroke="#f79a46" stroke-width="0.9"/><rect x="101.2" y="238.4" width="1.8" height="1.8" fill="#f79a46"/>
<text class="ts" x="106.8" y="241.6" font-size="7.2" fill="#111" stroke="#111" stroke-width="0.12">8</text>
<path d="M121.7,239.3 h7.6" stroke="#f9a860" stroke-width="0.9"/><rect x="124.7" y="238.4" width="1.8" height="1.8" fill="#f9a860"/>
<text class="ts" x="130.3" y="241.6" font-size="7.2" fill="#111" stroke="#111" stroke-width="0.12">9</text>
<path d="M145.2,239.3 h7.6" stroke="#f07f22" stroke-width="0.9"/><rect x="148.2" y="238.4" width="1.8" height="1.8" fill="#f07f22"/>
<text class="ts" x="153.8" y="241.6" font-size="7.2" fill="#111" stroke="#111" stroke-width="0.12">10</text>
<path d="M51.2,247.0 h7.6" stroke="#8fbd44" stroke-width="0.9"/><rect x="54.2" y="246.1" width="1.8" height="1.8" fill="#8fbd44"/>
<text class="ts" x="59.8" y="249.3" font-size="7.2" fill="#111" stroke="#111" stroke-width="0.12">11</text>
<path d="M74.7,247.0 h7.6" stroke="#9ac650" stroke-width="0.9"/><rect x="77.7" y="246.1" width="1.8" height="1.8" fill="#9ac650"/>
<text class="ts" x="83.3" y="249.3" font-size="7.2" fill="#111" stroke="#111" stroke-width="0.12">12</text>
<path d="M98.2,247.0 h7.6" stroke="#94c148" stroke-width="0.9"/><rect x="101.2" y="246.1" width="1.8" height="1.8" fill="#94c148"/>
<text class="ts" x="106.8" y="249.3" font-size="7.2" fill="#111" stroke="#111" stroke-width="0.12">13</text>
<path d="M121.7,247.0 h7.6" stroke="#aad374" stroke-width="0.9"/><rect x="124.7" y="246.1" width="1.8" height="1.8" fill="#aad374"/>
<text class="ts" x="130.3" y="249.3" font-size="7.2" fill="#111" stroke="#111" stroke-width="0.12">14</text>
<path d="M145.2,247.0 h7.6" stroke="#88b73e" stroke-width="0.9"/><rect x="148.2" y="246.1" width="1.8" height="1.8" fill="#88b73e"/>
<text class="ts" x="153.8" y="249.3" font-size="7.2" fill="#111" stroke="#111" stroke-width="0.12">15</text>
<path d="M50.6,264.3 C55,265.6 60,267.6 66,268.6 C71,269.4 74,270.4 77,273.6 C80,277.4 83,283 86,288" stroke="#f02020" stroke-width="1.1" fill="none" stroke-linecap="round"/>
<text class="ts b" x="50.5" y="301.6" font-size="8.2" fill="#f01010" stroke="#f01010" stroke-width="0.3" textLength="55.1" lengthAdjust="spacingAndGlyphs">Suddenly reduce</text>
<text class="ts b" x="90.6" y="322.9" font-size="8.25" stroke="#000" stroke-width="0.3" textLength="39.4" lengthAdjust="spacingAndGlyphs">run time /h</text>
<rect x="208.6" y="27.4" width="106" height="307.8" fill="#e9ecf9" stroke="#8f919c" stroke-width="0.9"/>
<path d="M208.6,127.2 H314.6 M208.6,229.3 H314.6" stroke="#9a9ca8" stroke-width="0.8"/>
<rect x="214.6" y="27.8" width="96.4" height="19.2" fill="#fff"/>
<rect x="214.6" y="127.6" width="96.4" height="21.2" fill="#fff"/>
<rect x="214.6" y="230.0" width="96.4" height="21.4" fill="#fff"/>
<g transform="translate(220.6,29.8)">
<rect x="0" y="0" width="84.8" height="14.4" rx="2.2" ry="2.2" fill="#1d1d1f"/>
<rect x="0.8" y="0.8" width="83.2" height="1.6" rx="0.8" fill="#3a3a3c" opacity="0.8"/>
<rect x="0.5" y="12.2" width="83.8" height="1.4" rx="0.7" fill="#0a0a0a"/>
<path d="M20.4,4.6 l1.1,2.6 l1.1,-2.6 M20.4,9.8 l1.1,-2.6 l1.1,2.6 M22.6,4.6 l1.1,2.6 l1.1,-2.6 M22.6,9.8 l1.1,-2.6 l1.1,2.6 M24.8,4.6 l1.1,2.6 l1.1,-2.6 M24.8,9.8 l1.1,-2.6 l1.1,2.6 M27.0,4.6 l1.1,2.6 l1.1,-2.6 M27.0,9.8 l1.1,-2.6 l1.1,2.6 M29.3,4.6 l1.1,2.6 l1.1,-2.6 M29.3,9.8 l1.1,-2.6 l1.1,2.6 M31.5,4.6 l1.1,2.6 l1.1,-2.6 M31.5,9.8 l1.1,-2.6 l1.1,2.6 M33.7,4.6 l1.1,2.6 l1.1,-2.6 M33.7,9.8 l1.1,-2.6 l1.1,2.6 M35.9,4.6 l1.1,2.6 l1.1,-2.6 M35.9,9.8 l1.1,-2.6 l1.1,2.6 M38.2,4.6 l1.1,2.6 l1.1,-2.6 M38.2,9.8 l1.1,-2.6 l1.1,2.6 M40.4,4.6 l1.1,2.6 l1.1,-2.6 M40.4,9.8 l1.1,-2.6 l1.1,2.6 M42.6,4.6 l1.1,2.6 l1.1,-2.6 M42.6,9.8 l1.1,-2.6 l1.1,2.6 M44.8,4.6 l1.1,2.6 l1.1,-2.6 M44.8,9.8 l1.1,-2.6 l1.1,2.6 M47.1,4.6 l1.1,2.6 l1.1,-2.6 M47.1,9.8 l1.1,-2.6 l1.1,2.6 M49.3,4.6 l1.1,2.6 l1.1,-2.6 M49.3,9.8 l1.1,-2.6 l1.1,2.6 M51.5,4.6 l1.1,2.6 l1.1,-2.6 M51.5,9.8 l1.1,-2.6 l1.1,2.6 M53.7,4.6 l1.1,2.6 l1.1,-2.6 M53.7,9.8 l1.1,-2.6 l1.1,2.6 " stroke="#4a4a4c" stroke-width="0.5" fill="none"/>
<path d="M20.4,4.2 H56.0 M20.4,10.2 H56.0" stroke="#3c3c3e" stroke-width="0.5" fill="none"/>
<path d="M7.7,7.2h1.1v1.1h-0.9zM13.3,3.0h0.7v1.3h-0.9zM8.0,4.5h1.9v1.0h-0.9zM16.3,6.6h1.5v0.7h-0.9zM13.4,10.0h1.3v1.2h-0.9zM13.9,3.0h1.6v1.1h-0.9zM8.6,2.7h1.7v1.0h-0.9zM14.6,10.1h1.6v1.3h-0.9zM9.9,9.4h1.2v1.3h-0.9zM16.9,3.3h0.9v0.8h-0.9zM18.2,6.2h1.5v0.8h-0.9zM11.6,5.8h1.1v1.1h-0.9zM12.7,10.4h1.5v1.3h-0.9zM16.6,11.1h1.5v0.7h-0.9zM16.6,10.9h1.8v1.1h-0.9zM14.5,4.3h1.7v1.1h-0.9zM25.4,3.0h1.7v1.4h-0.9zM20.8,9.4h1.2v0.7h-0.9zM25.6,9.2h1.7v0.6h-0.9zM33.2,2.8h1.6v0.9h-0.9zM39.6,11.0h1.3v1.4h-0.9zM26.0,3.1h1.4v0.6h-0.9zM23.3,6.0h1.4v0.7h-0.9zM19.7,10.0h1.1v1.4h-0.9zM39.9,5.7h1.3v1.0h-0.9zM33.9,7.6h1.4v1.1h-0.9zM67.9,6.9h1.2v1.2h-0.9zM48.8,5.0h1.9v1.0h-0.9zM57.3,2.5h1.2v1.1h-0.9zM42.9,7.8h1.5v0.6h-0.9zM59.4,6.5h1.5v0.9h-0.9zM61.6,8.9h0.7v0.6h-0.9zM60.7,10.9h1.0v1.0h-0.9zM58.5,5.2h1.1v0.9h-0.9zM52.4,7.6h1.1v0.9h-0.9zM63.4,2.6h1.4v1.2h-0.9zM50.8,4.4h1.7v0.8h-0.9zM47.5,6.2h1.5v0.7h-0.9zM51.1,5.3h1.7v1.0h-0.9zM65.6,3.9h1.1v1.1h-0.9zM66.4,6.4h1.0v0.7h-0.9zM56.8,4.1h1.7v1.3h-0.9zM47.4,4.9h1.7v1.1h-0.9zM64.3,5.4h0.9v0.8h-0.9zM63.9,4.8h1.1v0.9h-0.9zM53.8,6.0h1.8v0.7h-0.9z" fill="#7e4519" opacity="0.85"/>
<path d="M7.1,10.0h1.1v0.8h-1.1zM60.5,10.3h1.1v0.8h-1.1zM33.3,10.0h1.1v0.8h-1.1zM63.4,4.6h1.1v0.8h-1.1zM52.3,9.2h1.1v0.8h-1.1zM47.3,6.8h1.1v0.8h-1.1zM24.4,5.5h1.1v0.8h-1.1zM20.7,3.5h1.1v0.8h-1.1zM42.7,5.1h1.1v0.8h-1.1z" fill="#b86a2a" opacity="0.8"/>
<path d="M5.1,1 V13.4" stroke="#38383a" stroke-width="0.8"/>
</g>
<g transform="translate(219.6,131.2)">
<rect x="0" y="0" width="86.0" height="14.4" rx="2.2" ry="2.2" fill="#1d1d1f"/>
<rect x="0.8" y="0.8" width="84.4" height="1.6" rx="0.8" fill="#3a3a3c" opacity="0.8"/>
<rect x="0.5" y="12.2" width="85.0" height="1.4" rx="0.7" fill="#0a0a0a"/>
<path d="M18.5,9.0 L20.8,5.2 L23.1,9.0 L25.4,5.2 L27.6,9.0 L29.9,5.2 L32.2,9.0 L34.5,5.2 L36.8,9.0 L39.1,5.2 L41.4,9.0 L43.6,5.2 L45.9,9.0 L48.2,5.2 L50.5,9.0 L52.8,5.2 L55.1,9.0 L57.4,5.2 L59.7,9.0 L61.9,5.2 L64.2,9.0 L66.5,5.2 L68.8,9.0" stroke="#c39a4c" stroke-width="1.0" fill="none" stroke-linejoin="miter"/>
<path d="M16.0,4.2 v6 M14.5,5.7 h3" stroke="#c79a48" stroke-width="1.1" fill="none"/>
<path d="M70.8,4.8 l3,1 l-2,2 l3.5,1.5 M77.8,4.2 q3,1 0,3 q3,1.4 -0.6,3.4" stroke="#c79a48" stroke-width="1.2" fill="none"/>
<path d="M3.4,1 V13.4" stroke="#38383a" stroke-width="0.8"/>
</g>
<g transform="translate(217.8,233.0)">
<rect x="0" y="0" width="89.4" height="16.0" rx="2.2" ry="2.2" fill="#1d1d1f"/>
<rect x="0.8" y="0.8" width="87.8" height="1.6" rx="0.8" fill="#3a3a3c" opacity="0.8"/>
<rect x="0.5" y="13.8" width="88.4" height="1.4" rx="0.7" fill="#0a0a0a"/>
<rect x="1.5" y="1.6" width="86.4" height="12.4" fill="#2a241c"/>
<rect x="3.1" y="2.6" width="13.4" height="10.4" fill="#7d5727" opacity="0.9"/>
<rect x="16.8" y="3.4" width="53.5" height="8.8" fill="#3a2f20" stroke="#c9a765" stroke-width="0.7"/>
<path d="M18.3,10.0 L20.0,5.6 L21.7,10.0 L23.4,5.6 L25.1,10.0 L26.7,5.6 L28.4,10.0 L30.1,5.6 L31.8,10.0 L33.5,5.6 L35.2,10.0 L36.8,5.6 L38.5,10.0 L40.2,5.6 L41.9,10.0 L43.6,5.6 L45.3,10.0 L46.9,5.6 L48.6,10.0 L50.3,5.6 L52.0,10.0 L53.7,5.6 L55.4,10.0 L57.1,5.6 L58.7,10.0 L60.4,5.6 L62.1,10.0 L63.8,5.6 L65.5,10.0 L67.2,5.6 L68.8,10.0" stroke="#d6bd84" stroke-width="0.8" fill="none"/>
<rect x="71.5" y="2.4" width="15.2" height="11.0" fill="#1b1b1c"/>
</g>
<path d="M265.3,45.2 V53.4" stroke="#111" stroke-width="0.9"/><path d="M265.3,55.4 l-1.7,-3.4 h3.4 z" fill="#111"/>
<path d="M262.7,146.2 V152.4" stroke="#111" stroke-width="0.9"/><path d="M262.7,154.4 l-1.7,-3.4 h3.4 z" fill="#111"/>
<path d="M261.8,253.0 V261.4" stroke="#111" stroke-width="0.9"/><path d="M261.8,263.4 l-1.7,-3.4 h3.4 z" fill="#111"/>
<g transform="translate(218.6,56.8)"><clipPath id="c1"><rect width="88.8" height="67.8"/></clipPath><g clip-path="url(#c1)">
<linearGradient id="g1" x1="0" y1="0" x2="0" y2="1"><stop offset="0" stop-color="#a2a2a2"/><stop offset="0.18" stop-color="#949494"/><stop offset="0.6" stop-color="#8a8a8a"/><stop offset="1" stop-color="#8c8c8c"/></linearGradient>
<rect width="88.8" height="67.8" fill="url(#g1)"/>
<polygon points="0.0,20.9 8.0,12.0 35.5,12.0 46.7,31.3 53.1,30.9 62.1,13.0 63.5,12.0 81.2,12.0 87.6,18.9 88.8,52.8 88.8,55.2 81.6,51.2 73.6,36.1 68.4,36.9 61.1,52.8 32.3,52.2 23.5,34.1 18.2,34.9 9.4,54.0 0.0,55.2" fill="#737373" filter="url(#bl05)"/>
<polygon points="62.1,13.0 81.2,12.0 87.2,18.9 88.2,52.8 81.6,51.2 73.6,36.1 68.4,36.9 59.1,22.9" fill="#5e5e5e" filter="url(#bl1)"/>
<polygon points="33.1,42.9 47.1,34.9 61.1,32.9 63.1,44.9 60.1,52.8 33.1,52.2" fill="#666" filter="url(#bl1)"/>
<polygon points="43.1,35.9 53.1,28.9 69.2,30.9 65.1,35.9 53.1,39.9 45.5,45.3" fill="#8e8e8e" filter="url(#bl1)"/>
<polygon points="2.0,17.9 9.0,13.0 34.1,13.0 40.1,22.9 23.1,32.9 18.0,33.9 11.0,50.8 1.0,52.8" fill="#6c6c6c" filter="url(#bl1)"/>
<polygon points="36.1,11.6 62.1,11.6 53.5,30.5 46.3,30.9" fill="#8e8e8e" filter="url(#bl05)"/>
<polygon points="0.0,0.0 88.8,0.0 88.8,11.4 81.2,11.4 63.5,11.4 35.5,11.4 8.0,11.4 0.0,19.9" fill="#9c9c9c" filter="url(#bl05)"/>
<polyline points="88.8,55.2 81.6,51.2 73.6,36.1 68.4,36.9 61.1,52.8 32.3,52.2 23.5,34.1 18.2,34.9 9.4,54.0 0.0,55.2" fill="none" stroke="#d0d0d0" stroke-width="0.7" opacity="0.85"/>
<polyline points="0.0,20.9 8.0,12.0 35.5,12.0 46.7,31.3 53.1,30.9 62.1,13.0 63.5,12.0 81.2,12.0 87.6,18.9 88.8,52.8" fill="none" stroke="#5a5a5a" stroke-width="0.7" opacity="0.8"/>
<rect x="85.3" y="0" width="3.5" height="67.8" fill="#4c4c4c" opacity="0.8"/>
<rect width="88.8" height="67.8" filter="url(#nz)" opacity="0.2"/>
<rect width="88.8" height="67.8" filter="url(#nzw)" opacity="0.12"/>
</g></g>
<text class="ts b" x="250.8" y="81.3" font-size="12" fill="#fff" stroke="#fff" stroke-width="0.3" textLength="19.0" lengthAdjust="spacingAndGlyphs">35X</text>
<g transform="translate(218.0,155.2)"><clipPath id="c2"><rect width="88.6" height="69.4"/></clipPath><g clip-path="url(#c2)">
<linearGradient id="g2" x1="0" y1="0" x2="0" y2="1"><stop offset="0" stop-color="#3e3e3e"/><stop offset="0.06" stop-color="#868686"/><stop offset="0.2" stop-color="#8e8e8e"/><stop offset="0.4" stop-color="#6c6c6c"/><stop offset="0.78" stop-color="#6e6e6e"/><stop offset="0.88" stop-color="#868686"/><stop offset="1" stop-color="#8c8c8c"/></linearGradient>
<rect width="88.6" height="69.4" fill="url(#g2)"/>
<ellipse cx="9.0" cy="23.8" rx="9.6" ry="7.9" fill="#a0a0a0" filter="url(#bl2)" opacity="0.85"/>
<ellipse cx="76.7" cy="18.8" rx="9.0" ry="9.9" fill="#989898" filter="url(#bl2)" opacity="0.8"/>
<ellipse cx="79.6" cy="65.4" rx="18.9" ry="5.9" fill="#a4a4a4" filter="url(#bl2)" opacity="0.85"/>
<polygon points="20.9,13.9 36.8,54.5 47.8,17.8 59.7,13.9 70.7,54.5 81.6,14.9 88.6,15.9 88.6,32.7 83.6,34.7 77.6,54.5 61.7,54.5 53.8,36.7 41.8,36.7 33.8,55.5 15.9,54.5 8.0,34.7 0.0,34.7 0.0,16.9 9.0,13.9" fill="#5c5c5c" opacity="0.55" filter="url(#bl1)"/>
<ellipse cx="44.8" cy="48.6" rx="9.0" ry="10.9" fill="#505050" filter="url(#bl2)" opacity="0.7"/>
<polyline points="0.0,16.9 9.0,13.9 20.9,13.9 36.8,54.5 47.8,17.8 59.7,13.9 70.7,54.5 81.6,14.9 88.6,15.9" fill="none" stroke="#4c4c4c" stroke-width="0.6" opacity="0.8" stroke-linejoin="round"/>
<polyline points="0.0,34.7 8.0,34.7 15.9,54.5 33.8,55.5 41.8,36.7 53.8,36.7 61.7,54.5 77.6,54.5 83.6,34.7 88.6,32.7" fill="none" stroke="#505050" stroke-width="0.6" opacity="0.7" stroke-linejoin="round"/>
<rect width="88.6" height="69.4" filter="url(#nz)" opacity="0.16"/>
</g></g>
<text class="ts b" x="251.4" y="186.5" font-size="12" fill="#fff" stroke="#fff" stroke-width="0.3" textLength="19.2" lengthAdjust="spacingAndGlyphs">35X</text>
<g transform="translate(217.0,264.0)"><clipPath id="c3"><rect width="89.0" height="64.4"/></clipPath><g clip-path="url(#c3)">
<rect width="89.0" height="64.4" fill="#7e7e7e"/>
<rect width="89.0" height="6.0" fill="#868686"/>
<rect width="89.0" height="6.0" filter="url(#nz)" opacity="0.5"/>
<polygon points="27.9,7.4 88.6,6.6 88.6,25.3 74.7,30.5 62.7,17.3 41.2,19.3 28.5,30.5 25.3,15.0" fill="#969696"/>
<polygon points="5.4,7.4 23.3,8.6 25.3,28.9 9.4,33.7 4.6,22.9" fill="#8a8a8a"/>
<polygon points="11.3,36.1 33.3,30.9 37.6,40.9 17.3,46.9" fill="#949494"/>
<polygon points="13.3,49.2 38.8,43.7 43.6,50.8 17.3,54.0" fill="#7a7a7a"/>
<polygon points="49.2,37.3 54.8,35.3 63.7,43.3 69.7,52.8 45.2,53.2" fill="#929292"/>
<polygon points="65.7,36.5 78.2,38.5 82.2,50.8 71.9,52.0" fill="#868686"/>
<polygon points="58.7,20.9 74.7,31.9 64.7,35.3 56.7,33.9 47.2,33.3 45.2,26.9" fill="#8c8c8c"/>
<rect y="54.8" width="89.0" height="10.0" fill="#9c9c9c"/>
<rect y="53.6" width="89.0" height="1.4" fill="#5c5c5c" opacity="0.7"/>
<rect width="4.0" height="64.4" fill="#505050" opacity="0.85"/>
<polyline points="0.0,10.0 7.0,6.6 24.9,8.2 27.9,6.6 54.8,5.4 88.6,5.4" fill="none" stroke="#303030" stroke-width="1.0" opacity="0.75" stroke-linejoin="round"/>
<polyline points="24.9,8.2 26.9,29.9 11.0,34.9 5.0,36.9" fill="none" stroke="#303030" stroke-width="1.0" opacity="0.75" stroke-linejoin="round"/>
<polyline points="26.9,29.9 37.8,33.9 34.8,26.9" fill="none" stroke="#303030" stroke-width="1.0" opacity="0.75" stroke-linejoin="round"/>
<polyline points="5.0,7.0 3.4,50.8" fill="none" stroke="#303030" stroke-width="1.0" opacity="0.75" stroke-linejoin="round"/>
<polyline points="11.0,35.9 16.9,47.9 12.9,50.8" fill="none" stroke="#303030" stroke-width="1.0" opacity="0.75" stroke-linejoin="round"/>
<polyline points="16.9,47.9 37.8,41.9 43.8,50.8" fill="none" stroke="#303030" stroke-width="1.0" opacity="0.75" stroke-linejoin="round"/>
<polyline points="64.7,35.9 78.6,37.9 88.6,33.9" fill="none" stroke="#303030" stroke-width="1.0" opacity="0.75" stroke-linejoin="round"/>
<polyline points="78.6,37.9 83.6,50.8" fill="none" stroke="#303030" stroke-width="1.0" opacity="0.75" stroke-linejoin="round"/>
<polyline points="62.7,16.9 74.7,30.9 88.6,25.9" fill="none" stroke="#303030" stroke-width="1.0" opacity="0.75" stroke-linejoin="round"/>
<polyline points="26.9,29.9 40.8,18.9 62.7,16.9" fill="none" stroke="#303030" stroke-width="1.0" opacity="0.75" stroke-linejoin="round"/>
<polygon points="37.4,26.5 45.2,26.1 47.6,33.7 54.8,30.9 58.7,33.9 48.4,40.1 43.8,52.0 36.8,43.3 41.2,36.1 33.6,33.9" fill="#323232"/>
<polygon points="71.7,36.5 88.6,27.3 88.6,51.2 83.6,51.2 80.2,40.1" fill="#343434"/>
<polygon points="24.9,8.2 27.9,6.6 31.9,11.0 26.9,15.0" fill="#3a3a3a"/>
<polyline points="45.8,50.8 52.8,37.9 56.7,35.9 61.7,40.9 67.7,50.8 74.7,52.8 82.6,49.8" fill="none" stroke="#dcdcdc" stroke-width="0.8" stroke-linejoin="round"/>
<polyline points="74.7,29.9 80.6,33.9 88.6,24.9" fill="none" stroke="#d0d0d0" stroke-width="0.7"/>
<rect width="89.0" height="64.4" filter="url(#nz)" opacity="0.3"/>
<rect width="89.0" height="64.4" filter="url(#nzw)" opacity="0.22"/>
</g></g>
<text class="ts b" x="254.0" y="289.0" font-size="12" fill="#fff" stroke="#fff" stroke-width="0.3" textLength="19.0" lengthAdjust="spacingAndGlyphs">35X</text>
<path d="M190,85.2 H206.3" stroke="#f01818" stroke-width="1.2" fill="none"/><path d="M208.3,85.2 l-3.4,-1.9 v3.8 z" fill="#f01818"/>
<path d="M307.8,85.2 H325" stroke="#f01818" stroke-width="1.2" fill="none"/><path d="M327,85.2 l-3.4,-1.9 v3.8 z" fill="#f01818"/>
<path d="M190,169 H206.3" stroke="#f01818" stroke-width="1.2" fill="none"/><path d="M208.3,169 l-3.4,-1.9 v3.8 z" fill="#f01818"/>
<path d="M307.8,169 H325" stroke="#f01818" stroke-width="1.2" fill="none"/><path d="M327,169 l-3.4,-1.9 v3.8 z" fill="#f01818"/>
<path d="M190,273.7 H206.3" stroke="#f01818" stroke-width="1.2" fill="none"/><path d="M208.3,273.7 l-3.4,-1.9 v3.8 z" fill="#f01818"/>
<path d="M307.8,273.7 H325" stroke="#f01818" stroke-width="1.2" fill="none"/><path d="M327,273.7 l-3.4,-1.9 v3.8 z" fill="#f01818"/>
<path d="M416.7,75.8 L422.4,77.7 L426.0,82.6 L426.0,88.6 L422.4,93.5 L416.7,95.3 L411.0,93.5 L407.4,88.6 L407.4,82.6 L411.0,77.7Z M416.7,66.1 L428.2,69.8 L435.2,79.6 L435.2,91.6 L428.2,101.4 L416.7,105.1 L405.2,101.4 L398.2,91.6 L398.2,79.6 L405.2,69.8Z M416.7,56.3 L433.9,61.9 L444.5,76.6 L444.5,94.6 L433.9,109.3 L416.7,114.8 L399.5,109.3 L388.9,94.6 L388.9,76.6 L399.5,61.9Z M416.7,46.6 L439.6,54.0 L453.8,73.5 L453.8,97.7 L439.6,117.2 L416.7,124.6 L393.8,117.2 L379.6,97.7 L379.6,73.5 L393.8,54.0Z M416.7,85.6 L416.7,46.6 M416.7,85.6 L439.6,54.0 M416.7,85.6 L453.8,73.5 M416.7,85.6 L453.8,97.7 M416.7,85.6 L439.6,117.2 M416.7,85.6 L416.7,124.6 M416.7,85.6 L393.8,117.2 M416.7,85.6 L379.6,97.7 M416.7,85.6 L379.6,73.5 M416.7,85.6 L393.8,54.0 " fill="none" stroke="#c4c4c4" stroke-width="0.6"/>
<path d="M416.7,85.6 V46.599999999999994" stroke="#c4c4c4" stroke-width="0.7"/>
<text class="ts" x="408.3" y="88.1" font-size="7.5" text-anchor="end" fill="#111" stroke="#111" stroke-width="0.12">0</text>
<text class="ts" x="408.3" y="78.3" font-size="7.5" text-anchor="end" fill="#111" stroke="#111" stroke-width="0.12">20</text>
<text class="ts" x="408.3" y="68.6" font-size="7.5" text-anchor="end" fill="#111" stroke="#111" stroke-width="0.12">40</text>
<text class="ts" x="408.3" y="58.8" font-size="7.5" text-anchor="end" fill="#111" stroke="#111" stroke-width="0.12">60</text>
<text class="ts" x="408.3" y="49.1" font-size="7.5" text-anchor="end" fill="#111" stroke="#111" stroke-width="0.12">80</text>
<path d="M416.7,79.8 L417.6,84.4 L417.6,85.3 L417.6,85.9 L417.0,86.0 L416.7,86.6 L415.8,86.8 L399.5,91.2 L398.2,79.6 L415.8,84.4Z" fill="none" stroke="#e01020" stroke-width="1.3" stroke-linejoin="miter"/>
<path d="M416.7,80.7 L417.3,84.8 L418.1,85.1 L417.2,85.8 L417.0,86.0 L416.7,86.1 L416.1,86.4 L401.4,90.6 L392.6,77.8 L416.1,84.8Z" fill="none" stroke="#1f2fd0" stroke-width="1.1" stroke-linejoin="miter"/>
<text class="ts b" x="406.7" y="43.1" font-size="8.7" stroke="#000" stroke-width="0.3" textLength="19.9" lengthAdjust="spacingAndGlyphs">quartz</text>
<text class="ts b" x="440.2" y="55.2" font-size="8.7" stroke="#000" stroke-width="0.3" textLength="30.2" lengthAdjust="spacingAndGlyphs">muscovite</text>
<text class="ts b" x="454.8" y="75.3" font-size="8.7" stroke="#000" stroke-width="0.3" textLength="47.2" lengthAdjust="spacingAndGlyphs">magnesioferrite</text>
<text class="ts b" x="454.8" y="100.0" font-size="8.7" stroke="#000" stroke-width="0.3" textLength="28.2" lengthAdjust="spacingAndGlyphs">aragonite</text>
<text class="ts b" x="440.2" y="120.5" font-size="8.7" stroke="#000" stroke-width="0.3" textLength="31.8" lengthAdjust="spacingAndGlyphs">Mg-calcite</text>
<text class="ts b" x="407.3" y="132.4" font-size="8.7" stroke="#000" stroke-width="0.3" textLength="18.7" lengthAdjust="spacingAndGlyphs">calcite</text>
<text class="ts b" x="366.8" y="120.5" font-size="8.7" stroke="#000" stroke-width="0.3" textLength="25.7" lengthAdjust="spacingAndGlyphs">dolomite</text>
<text class="ts b" x="322.0" y="100.4" font-size="8.7" stroke="#000" stroke-width="0.3" textLength="56.0" lengthAdjust="spacingAndGlyphs">ferrosoferric oxide</text>
<text class="ts b" x="334.6" y="75.0" font-size="8.7" stroke="#000" stroke-width="0.3" textLength="43.4" lengthAdjust="spacingAndGlyphs">alkali feldspar</text>
<text class="ts b" x="345.5" y="55.8" font-size="8.7" stroke="#000" stroke-width="0.3" textLength="47.5" lengthAdjust="spacingAndGlyphs">magnesioferrite</text>
<path d="M416.6,179.6 L421.8,181.3 L425.1,185.7 L425.1,191.3 L421.8,195.7 L416.6,197.4 L411.4,195.7 L408.1,191.3 L408.1,185.7 L411.4,181.3Z M416.6,170.7 L427.1,174.1 L433.6,183.0 L433.6,194.0 L427.1,202.9 L416.6,206.3 L406.1,202.9 L399.6,194.0 L399.6,183.0 L406.1,174.1Z M416.6,161.7 L432.3,166.8 L442.1,180.2 L442.1,196.8 L432.3,210.2 L416.6,215.3 L400.9,210.2 L391.1,196.8 L391.1,180.2 L400.9,166.8Z M416.6,152.8 L437.6,159.6 L450.6,177.5 L450.6,199.5 L437.6,217.4 L416.6,224.2 L395.6,217.4 L382.6,199.5 L382.6,177.5 L395.6,159.6Z M416.6,188.5 L416.6,152.8 M416.6,188.5 L437.6,159.6 M416.6,188.5 L450.6,177.5 M416.6,188.5 L450.6,199.5 M416.6,188.5 L437.6,217.4 M416.6,188.5 L416.6,224.2 M416.6,188.5 L395.6,217.4 M416.6,188.5 L382.6,199.5 M416.6,188.5 L382.6,177.5 M416.6,188.5 L395.6,159.6 " fill="none" stroke="#a8a8a8" stroke-width="0.6"/>
<path d="M416.6,188.5 V152.8" stroke="#a8a8a8" stroke-width="0.7"/>
<text class="ts" x="408.0" y="191.0" font-size="7.5" text-anchor="end" fill="#111" stroke="#111" stroke-width="0.12">0</text>
<text class="ts" x="408.0" y="182.1" font-size="7.5" text-anchor="end" fill="#111" stroke="#111" stroke-width="0.12">20</text>
<text class="ts" x="408.0" y="173.2" font-size="7.5" text-anchor="end" fill="#111" stroke="#111" stroke-width="0.12">40</text>
<text class="ts" x="408.0" y="164.2" font-size="7.5" text-anchor="end" fill="#111" stroke="#111" stroke-width="0.12">60</text>
<text class="ts" x="408.0" y="155.3" font-size="7.5" text-anchor="end" fill="#111" stroke="#111" stroke-width="0.12">80</text>
<path d="M416.6,185.8 L417.6,187.1 L417.9,188.1 L417.4,188.8 L417.1,189.2 L416.6,189.4 L398.2,213.8 L413.2,189.6 L411.1,186.7 L415.6,187.1Z" fill="none" stroke="#1f2fd0" stroke-width="1.8" stroke-linejoin="miter"/>
<path d="M416.6,185.4 L417.9,186.7 L417.9,188.1 L417.4,188.8 L417.1,189.2 L416.6,189.8 L400.3,210.9 L414.1,189.3 L412.8,187.3 L415.6,187.1Z" fill="none" stroke="#e01020" stroke-width="0.9" stroke-linejoin="miter"/>
<text class="ts b" x="405.8" y="149.6" font-size="8.7" stroke="#000" stroke-width="0.3" textLength="19.8" lengthAdjust="spacingAndGlyphs">quartz</text>
<text class="ts b" x="438.3" y="161.3" font-size="8.7" stroke="#000" stroke-width="0.3" textLength="29.7" lengthAdjust="spacingAndGlyphs">muscovite</text>
<text class="ts b" x="451.3" y="179.3" font-size="8.7" stroke="#000" stroke-width="0.3" textLength="47.7" lengthAdjust="spacingAndGlyphs">magnesioferrite</text>
<text class="ts b" x="451.3" y="202.3" font-size="8.7" stroke="#000" stroke-width="0.3" textLength="28.5" lengthAdjust="spacingAndGlyphs">aragonite</text>
<text class="ts b" x="438.3" y="221.2" font-size="8.7" stroke="#000" stroke-width="0.3" textLength="31.2" lengthAdjust="spacingAndGlyphs">Mg-calcite</text>
<text class="ts b" x="407.0" y="232.5" font-size="8.7" stroke="#000" stroke-width="0.3" textLength="18.6" lengthAdjust="spacingAndGlyphs">calcite</text>
<text class="ts b" x="367.8" y="221.2" font-size="8.7" stroke="#000" stroke-width="0.3" textLength="26.2" lengthAdjust="spacingAndGlyphs">dolomite</text>
<text class="ts b" x="324.3" y="202.3" font-size="8.7" stroke="#000" stroke-width="0.3" textLength="55.7" lengthAdjust="spacingAndGlyphs">ferrosoferric oxide</text>
<text class="ts b" x="337.0" y="179.3" font-size="8.7" stroke="#000" stroke-width="0.3" textLength="43.4" lengthAdjust="spacingAndGlyphs">alkali feldspar</text>
<text class="ts b" x="346.5" y="161.0" font-size="8.7" stroke="#000" stroke-width="0.3" textLength="47.5" lengthAdjust="spacingAndGlyphs">magnesioferrite</text>
<path d="M417.0,275.9 L422.1,277.6 L425.3,282.0 L425.3,287.4 L422.1,291.8 L417.0,293.4 L411.9,291.8 L408.7,287.4 L408.7,282.0 L411.9,277.6Z M417.0,267.2 L427.3,270.5 L433.6,279.3 L433.6,290.1 L427.3,298.9 L417.0,302.2 L406.7,298.9 L400.4,290.1 L400.4,279.3 L406.7,270.5Z M417.0,258.4 L432.4,263.5 L442.0,276.6 L442.0,292.8 L432.4,305.9 L417.0,310.9 L401.6,305.9 L392.0,292.8 L392.0,276.6 L401.6,263.5Z M417.0,249.7 L437.6,256.4 L450.3,273.9 L450.3,295.5 L437.6,313.0 L417.0,319.7 L396.4,313.0 L383.7,295.5 L383.7,273.9 L396.4,256.4Z M417.0,284.7 L417.0,249.7 M417.0,284.7 L437.6,256.4 M417.0,284.7 L450.3,273.9 M417.0,284.7 L450.3,295.5 M417.0,284.7 L437.6,313.0 M417.0,284.7 L417.0,319.7 M417.0,284.7 L396.4,313.0 M417.0,284.7 L383.7,295.5 M417.0,284.7 L383.7,273.9 M417.0,284.7 L396.4,256.4 " fill="none" stroke="#a8a8a8" stroke-width="0.6"/>
<path d="M417.0,284.7 V249.7" stroke="#a8a8a8" stroke-width="0.7"/>
<text class="ts" x="408.2" y="287.2" font-size="7.5" text-anchor="end" fill="#111" stroke="#111" stroke-width="0.12">0</text>
<text class="ts" x="408.2" y="278.4" font-size="7.5" text-anchor="end" fill="#111" stroke="#111" stroke-width="0.12">20</text>
<text class="ts" x="408.2" y="269.7" font-size="7.5" text-anchor="end" fill="#111" stroke="#111" stroke-width="0.12">40</text>
<text class="ts" x="408.2" y="260.9" font-size="7.5" text-anchor="end" fill="#111" stroke="#111" stroke-width="0.12">60</text>
<text class="ts" x="408.2" y="252.2" font-size="7.5" text-anchor="end" fill="#111" stroke="#111" stroke-width="0.12">80</text>
<path d="M417.0,282.5 L418.0,283.3 L418.2,284.3 L417.8,285.0 L417.5,285.4 L417.0,285.6 L397.7,311.2 L414.1,285.6 L412.8,283.3 L416.0,283.3Z" fill="none" stroke="#1f2fd0" stroke-width="2.0" stroke-linejoin="miter"/>
<path d="M417.0,281.6 L418.5,282.6 L418.2,284.3 L417.8,285.0 L417.5,285.4 L417.0,286.0 L415.5,286.8 L415.8,285.1 L415.3,284.2 L416.0,283.3Z" fill="none" stroke="#e01020" stroke-width="0.9" stroke-linejoin="miter"/>
<text class="ts b" x="406.6" y="246.7" font-size="8.7" stroke="#000" stroke-width="0.3" textLength="20.0" lengthAdjust="spacingAndGlyphs">quartz</text>
<text class="ts b" x="438.3" y="258.0" font-size="8.7" stroke="#000" stroke-width="0.3" textLength="29.7" lengthAdjust="spacingAndGlyphs">muscovite</text>
<text class="ts b" x="451.0" y="276.4" font-size="8.7" stroke="#000" stroke-width="0.3" textLength="47.7" lengthAdjust="spacingAndGlyphs">magnesioferrite</text>
<text class="ts b" x="451.0" y="298.8" font-size="8.7" stroke="#000" stroke-width="0.3" textLength="28.6" lengthAdjust="spacingAndGlyphs">aragonite</text>
<text class="ts b" x="438.3" y="317.0" font-size="8.7" stroke="#000" stroke-width="0.3" textLength="31.2" lengthAdjust="spacingAndGlyphs">Mg-calcite</text>
<text class="ts b" x="407.4" y="327.6" font-size="8.7" stroke="#000" stroke-width="0.3" textLength="18.6" lengthAdjust="spacingAndGlyphs">calcite</text>
<text class="ts b" x="369.0" y="317.0" font-size="8.7" stroke="#000" stroke-width="0.3" textLength="26.0" lengthAdjust="spacingAndGlyphs">dolomite</text>
<text class="ts b" x="326.2" y="298.8" font-size="8.7" stroke="#000" stroke-width="0.3" textLength="56.2" lengthAdjust="spacingAndGlyphs">ferrosoferric oxide</text>
<text class="ts b" x="339.0" y="276.4" font-size="8.7" stroke="#000" stroke-width="0.3" textLength="43.4" lengthAdjust="spacingAndGlyphs">alkali feldspar</text>
<text class="ts b" x="348.3" y="257.8" font-size="8.7" stroke="#000" stroke-width="0.3" textLength="47.3" lengthAdjust="spacingAndGlyphs">magnesioferrite</text>
<rect x="3.4" y="365.2" width="503.2" height="181" fill="#fff" stroke="#d4d4d4" stroke-width="0.9"/>
<text class="ts b" x="13.6" y="379.1" font-size="11.13" stroke="#000" stroke-width="0.3" textLength="13.6" lengthAdjust="spacingAndGlyphs">(d)</text>
<path d="M155,398.7 H360.5 M134.8,435.8 H337.8" stroke="#858585" stroke-width="1.4" fill="none"/>
<ellipse cx="218.2" cy="407.4" rx="21.0" ry="9.0" fill="#bddde8"/>
<ellipse cx="281.0" cy="406.6" rx="21.4" ry="8.9" fill="#bddde8"/>
<ellipse cx="343.3" cy="403.4" rx="12.5" ry="6.0" fill="#bddde8"/>
<ellipse cx="186.4" cy="444.4" rx="21.8" ry="8.9" fill="#bddde8"/>
<ellipse cx="245.6" cy="441.0" rx="12.0" ry="6.6" fill="#bddde8"/>
<ellipse cx="316.0" cy="444.2" rx="21.3" ry="9.1" fill="#bddde8"/>
<path d="M155,398.7 H360.5 M134.8,435.8 H337.8" stroke="#858585" stroke-width="1.4" fill="none"/>
<use href="#plant" transform="translate(219.8,398.3) scale(1.0,0.95)"/>
<use href="#plant" transform="translate(280.5,398.3) scale(1.02,0.88)"/>
<use href="#plant" transform="translate(344.6,398.3) scale(0.76,0.56)"/>
<use href="#plant" transform="translate(183.7,435.4) scale(1.0,0.96)"/>
<use href="#plant" transform="translate(247.0,435.4) scale(0.75,0.55)"/>
<use href="#plant" transform="translate(316.0,435.4) scale(1.02,0.9)"/>
<path d="M65,485.5 V412.2 H148.4 M162.7,383.6 L130.5,444.2" stroke="#111" stroke-width="1.45" fill="none"/>
<path d="M36.9,480.6 V511.4 A28.4,7.2 0 0 0 93.7,511.4 V480.6 Z" fill="#b9e1e8" stroke="#26363a" stroke-width="1"/>
<ellipse cx="65.3" cy="480.6" rx="28.4" ry="7.2" fill="#c4e8ee" stroke="#26363a" stroke-width="1"/>
<path d="M65,470 V485.8" stroke="#111" stroke-width="1.45"/>
<path d="M68.2,486.5 V500.2 H114.4 V511" stroke="#6fbac9" stroke-width="0.6" fill="none"/><path d="M114.4,513.4 l-1.5,-3 h3 z" fill="#6fbac9"/>
<path d="M82,472.6 H89" stroke="#6fbac9" stroke-width="0.6" fill="none"/><path d="M91.2,472.6 l-3,-1.5 v3 z" fill="#6fbac9"/>
<text class="ts b" x="42.4" y="508.2" font-size="9.41" stroke="#000" stroke-width="0.3" textLength="49.9" lengthAdjust="spacingAndGlyphs">Saline water</text>
<rect x="91.5" y="463.2" width="65.8" height="20" fill="#c9c9c9"/>
<rect x="91.5" y="511.5" width="65.8" height="20.7" fill="#c9c9c9"/>
<text class="ts b" x="99.7" y="477.2" font-size="9.7" stroke="#000" stroke-width="0.3" xml:space="preserve">Ca<tspan font-size="5.6" dy="-3.4">2+</tspan><tspan dy="3.4" font-size="9.7">  HCO</tspan><tspan font-size="5.6" dy="1.8">3</tspan><tspan font-size="5.6" dy="-4.6">-</tspan></text>
<text class="ts b" x="103.2" y="524.6" font-size="9.45" stroke="#000" stroke-width="0.3" textLength="41.5" lengthAdjust="spacingAndGlyphs">Sediments</text>
<path d="M157.9,471.09999999999997 H169.70000000000002 V468.7 L175.3,473.4 L169.70000000000002,478.09999999999997 V475.7 H157.9 Z" fill="#b7dde4" stroke="#62a0b0" stroke-width="0.75" stroke-linejoin="miter"/>
<path d="M219.6,471.7 H231.4 V469.3 L237.0,474.0 L231.4,478.7 V476.3 H219.6 Z" fill="#b7dde4" stroke="#62a0b0" stroke-width="0.75" stroke-linejoin="miter"/>
<path d="M300.2,469.5 H311.9 V467.1 L317.5,471.8 L311.9,476.5 V474.1 H300.2 Z" fill="#b7dde4" stroke="#62a0b0" stroke-width="0.75" stroke-linejoin="miter"/>
<path d="M157.9,520.6 H169.70000000000002 V518.1999999999999 L175.3,522.9 L169.70000000000002,527.6 V525.1999999999999 H157.9 Z" fill="#b7dde4" stroke="#62a0b0" stroke-width="0.75" stroke-linejoin="miter"/>
<path d="M227.6,524.0 H240.8 V521.5999999999999 L246.4,526.3 L240.8,531.0 V528.5999999999999 H227.6 Z" fill="#b7dde4" stroke="#62a0b0" stroke-width="0.75" stroke-linejoin="miter"/>
<path d="M300.2,524.1 H312.29999999999995 V521.6999999999999 L317.9,526.4 L312.29999999999995,531.1 V528.6999999999999 H300.2 Z" fill="#b7dde4" stroke="#62a0b0" stroke-width="0.75" stroke-linejoin="miter"/>
<text class="ts b" x="179.8" y="474.6" font-size="9.35" stroke="#000" stroke-width="0.3" textLength="36.9" lengthAdjust="spacingAndGlyphs">Diffusion</text>
<text class="ts b" x="242.0" y="474.6" font-size="9.37" stroke="#000" stroke-width="0.3" textLength="51.9" lengthAdjust="spacingAndGlyphs">Precipitation</text>
<text class="ts b" x="178.0" y="526.5" font-size="9.36" stroke="#000" stroke-width="0.3" textLength="40.4" lengthAdjust="spacingAndGlyphs">Transport</text>
<text class="ts b" x="252.8" y="527.9" font-size="9.26" stroke="#000" stroke-width="0.3" textLength="42.2" lengthAdjust="spacingAndGlyphs">Deposition</text>
<path d="M311,481.5 L198,512.7" stroke="#4a55e0" stroke-width="0.7" stroke-dasharray="2,1.2" fill="none"/>
<path d="M198,512.7 L201.1,510.3 L201.9,513.2 Z" fill="#4a55e0"/>
<path d="M320.4,482.4 L273.6,513.6" stroke="#4a55e0" stroke-width="0.7" stroke-dasharray="2,1.2" fill="none"/>
<path d="M273.6,513.6 L275.8,510.4 L277.4,512.9 Z" fill="#4a55e0"/>
<text class="ta b" x="212.2" y="498.6" font-size="9.31" fill="#f01010" stroke="#f01010" stroke-width="0.3" textLength="32.6" lengthAdjust="spacingAndGlyphs">change</text>
<text class="ta b" x="290.8" y="506.6" font-size="9.27" fill="#f01010" stroke="#f01010" stroke-width="0.3" textLength="43.8" lengthAdjust="spacingAndGlyphs">aggravate</text>
<rect x="320.8" y="455.4" width="116.2" height="25.3" fill="#d3d4ef"/>
<rect x="322.0" y="512.6" width="115" height="25.8" fill="#fcfbcc"/>
<text class="ts b" x="342.8" y="465.0" font-size="9.35" stroke="#000" stroke-width="0.3" textLength="73.5" lengthAdjust="spacingAndGlyphs">Chemical clogging</text>
<text class="ts b" x="332.4" y="477.0" font-size="9.37" stroke="#000" stroke-width="0.3" textLength="93.4" lengthAdjust="spacingAndGlyphs">(crystallization fouling)</text>
<text class="ts b" x="344.9" y="522.9" font-size="9.35" stroke="#000" stroke-width="0.3" textLength="71.4" lengthAdjust="spacingAndGlyphs">Physical Clogging</text>
<text class="ts b" x="338.6" y="534.0" font-size="9.64" stroke="#000" stroke-width="0.3" textLength="82.7" lengthAdjust="spacingAndGlyphs">(particulate fouling)</text>
<g transform="translate(349.6,485.6)">
<rect x="0" y="0" width="83.0" height="13.8" rx="2.2" ry="2.2" fill="#1d1d1f"/>
<rect x="0.8" y="0.8" width="81.4" height="1.6" rx="0.8" fill="#3a3a3c" opacity="0.8"/>
<rect x="0.5" y="11.6" width="82.0" height="1.4" rx="0.7" fill="#0a0a0a"/>
<rect x="17.3" y="3.3" width="50.1" height="7" fill="#3b2f1e"/>
<path d="M18.3,8.7 L20.3,4.9 L22.3,8.7 L24.3,4.9 L26.3,8.7 L28.3,4.9 L30.3,8.7 L32.3,4.9 L34.3,8.7 L36.3,4.9 L38.3,8.7 L40.3,4.9 L42.3,8.7 L44.3,4.9 L46.3,8.7 L48.3,4.9 L50.4,8.7 L52.4,4.9 L54.4,8.7 L56.4,4.9 L58.4,8.7 L60.4,4.9 L62.4,8.7 L64.4,4.9 L66.4,8.7" stroke="#caa060" stroke-width="1.1" fill="none"/>
<path d="M18.3,3.5 H66.4" stroke="#b08848" stroke-width="0.7"/>
<rect x="68.9" y="2.9" width="8.3" height="8" fill="#b39258"/>
<rect x="3.7" y="1.6" width="10.8" height="10.2" fill="#141415"/>
</g>
<path d="M441.4,466.8 H444.8 V519.6 H441.4 M444.8,496.4 H464.6 V416.4 H371" stroke="#6fbac9" stroke-width="0.6" fill="none"/><path d="M368.6,416.4 l3.4,-1.6 v3.2 z" fill="#6fbac9"/>
<text class="ts b" x="386.4" y="406.4" font-size="9.3" stroke="#000" stroke-width="0.3" textLength="15.2" lengthAdjust="spacingAndGlyphs">Dra</text>
<text class="ts b" x="409.6" y="406.4" font-size="9.3" stroke="#000" stroke-width="0.3" textLength="13.4" lengthAdjust="spacingAndGlyphs">CU</text>
<text font-family="DejaVu Sans, sans-serif" font-size="12" text-anchor="middle" transform="translate(404.0,408) scale(0.5,1)">↓</text>
<text font-family="DejaVu Sans, sans-serif" font-size="12" text-anchor="middle" transform="translate(425.4,408) scale(0.5,1)">↓</text>
<text class="ts b" x="357.8" y="431.6" font-size="10" fill="#f01010" stroke="#f01010" stroke-width="0.3" textLength="89.2" lengthAdjust="spacingAndGlyphs">Influence crop growth</text>
</svg>
</body></html>
